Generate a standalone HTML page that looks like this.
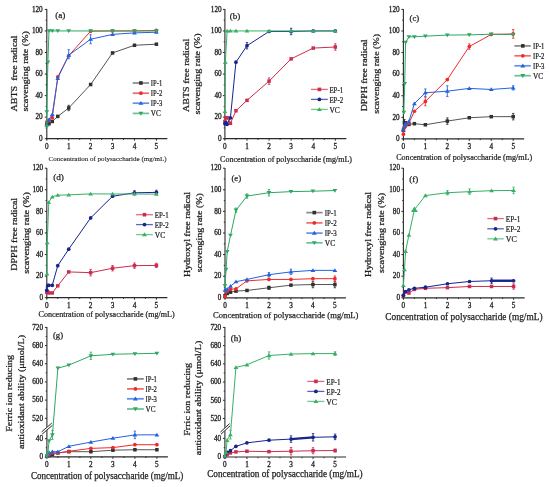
<!DOCTYPE html>
<html><head><meta charset="utf-8"><style>
html,body{margin:0;padding:0;background:#fff;width:550px;height:487px;overflow:hidden;}
svg{display:block;font-family:"Liberation Serif",serif;will-change:transform;filter:blur(0.35px);}
text{stroke:#1e1e1e;paint-order:stroke;}
</style></head><body>
<svg width="550" height="487" viewBox="0 0 550 487" font-family="Liberation Serif, serif">
<rect width="550" height="487" fill="#fff"/>
<line x1="46.8" y1="9.1" x2="46.8" y2="139.3" stroke="#2a2a2a" stroke-width="1.1"/>
<line x1="46.2" y1="138.7" x2="167.36" y2="138.7" stroke="#2a2a2a" stroke-width="1.2"/>
<line x1="44.8" y1="138.7" x2="46.8" y2="138.7" stroke="#2a2a2a" stroke-width="1"/>
<text transform="translate(42.7 140.98) scale(0.95 1)" font-size="7.6" text-anchor="end" fill="#1e1e1e" stroke-width="0.3">0</text>
<line x1="45.6" y1="127.92" x2="46.8" y2="127.92" stroke="#2a2a2a" stroke-width="1"/>
<line x1="44.8" y1="117.15" x2="46.8" y2="117.15" stroke="#2a2a2a" stroke-width="1"/>
<text transform="translate(42.7 119.43) scale(0.95 1)" font-size="7.6" text-anchor="end" fill="#1e1e1e" stroke-width="0.3">20</text>
<line x1="45.6" y1="106.38" x2="46.8" y2="106.38" stroke="#2a2a2a" stroke-width="1"/>
<line x1="44.8" y1="95.6" x2="46.8" y2="95.6" stroke="#2a2a2a" stroke-width="1"/>
<text transform="translate(42.7 97.88) scale(0.95 1)" font-size="7.6" text-anchor="end" fill="#1e1e1e" stroke-width="0.3">40</text>
<line x1="45.6" y1="84.82" x2="46.8" y2="84.82" stroke="#2a2a2a" stroke-width="1"/>
<line x1="44.8" y1="74.05" x2="46.8" y2="74.05" stroke="#2a2a2a" stroke-width="1"/>
<text transform="translate(42.7 76.33) scale(0.95 1)" font-size="7.6" text-anchor="end" fill="#1e1e1e" stroke-width="0.3">60</text>
<line x1="45.6" y1="63.28" x2="46.8" y2="63.28" stroke="#2a2a2a" stroke-width="1"/>
<line x1="44.8" y1="52.5" x2="46.8" y2="52.5" stroke="#2a2a2a" stroke-width="1"/>
<text transform="translate(42.7 54.78) scale(0.95 1)" font-size="7.6" text-anchor="end" fill="#1e1e1e" stroke-width="0.3">80</text>
<line x1="45.6" y1="41.73" x2="46.8" y2="41.73" stroke="#2a2a2a" stroke-width="1"/>
<line x1="44.8" y1="30.95" x2="46.8" y2="30.95" stroke="#2a2a2a" stroke-width="1"/>
<text transform="translate(42.7 33.23) scale(0.95 1)" font-size="7.6" text-anchor="end" fill="#1e1e1e" stroke-width="0.3">100</text>
<line x1="45.6" y1="20.17" x2="46.8" y2="20.17" stroke="#2a2a2a" stroke-width="1"/>
<line x1="44.8" y1="9.4" x2="46.8" y2="9.4" stroke="#2a2a2a" stroke-width="1"/>
<text transform="translate(42.7 11.68) scale(0.95 1)" font-size="7.6" text-anchor="end" fill="#1e1e1e" stroke-width="0.3">120</text>
<line x1="46.8" y1="138.7" x2="46.8" y2="140.7" stroke="#2a2a2a" stroke-width="1"/>
<text transform="translate(46.8 148.5) scale(0.95 1)" font-size="7.6" text-anchor="middle" fill="#1e1e1e" stroke-width="0.3">0</text>
<line x1="57.76" y1="138.7" x2="57.76" y2="139.9" stroke="#2a2a2a" stroke-width="1"/>
<line x1="68.72" y1="138.7" x2="68.72" y2="140.7" stroke="#2a2a2a" stroke-width="1"/>
<text transform="translate(68.72 148.5) scale(0.95 1)" font-size="7.6" text-anchor="middle" fill="#1e1e1e" stroke-width="0.3">1</text>
<line x1="79.68" y1="138.7" x2="79.68" y2="139.9" stroke="#2a2a2a" stroke-width="1"/>
<line x1="90.64" y1="138.7" x2="90.64" y2="140.7" stroke="#2a2a2a" stroke-width="1"/>
<text transform="translate(90.64 148.5) scale(0.95 1)" font-size="7.6" text-anchor="middle" fill="#1e1e1e" stroke-width="0.3">2</text>
<line x1="101.6" y1="138.7" x2="101.6" y2="139.9" stroke="#2a2a2a" stroke-width="1"/>
<line x1="112.56" y1="138.7" x2="112.56" y2="140.7" stroke="#2a2a2a" stroke-width="1"/>
<text transform="translate(112.56 148.5) scale(0.95 1)" font-size="7.6" text-anchor="middle" fill="#1e1e1e" stroke-width="0.3">3</text>
<line x1="123.52" y1="138.7" x2="123.52" y2="139.9" stroke="#2a2a2a" stroke-width="1"/>
<line x1="134.48" y1="138.7" x2="134.48" y2="140.7" stroke="#2a2a2a" stroke-width="1"/>
<text transform="translate(134.48 148.5) scale(0.95 1)" font-size="7.6" text-anchor="middle" fill="#1e1e1e" stroke-width="0.3">4</text>
<line x1="145.44" y1="138.7" x2="145.44" y2="139.9" stroke="#2a2a2a" stroke-width="1"/>
<line x1="156.4" y1="138.7" x2="156.4" y2="140.7" stroke="#2a2a2a" stroke-width="1"/>
<text transform="translate(156.4 148.5) scale(0.95 1)" font-size="7.6" text-anchor="middle" fill="#1e1e1e" stroke-width="0.3">5</text>
<text x="55.2" y="17.6" font-size="9.2" text-anchor="start" fill="#1e1e1e" stroke-width="0.25">(a)</text>
<text transform="translate(16.6 73.5) scale(0.82 1) rotate(-90)" x="0" y="0" font-size="10" text-anchor="middle" fill="#1e1e1e" stroke-width="0.3" textLength="76.2" lengthAdjust="spacingAndGlyphs">ABTS&#160;&#160;free radical</text>
<text transform="translate(28.4 71.35) scale(0.82 1) rotate(-90)" x="0" y="0" font-size="10" text-anchor="middle" fill="#1e1e1e" stroke-width="0.3" textLength="80.5" lengthAdjust="spacingAndGlyphs">scavenging rate (%)</text>
<text x="48.6" y="161.2" font-size="7" text-anchor="start" fill="#1e1e1e" stroke-width="0.12" textLength="118.1" lengthAdjust="spacingAndGlyphs">Concentration of polysaccharide (mg/mL)</text>
<polyline points="46.8,124.69 48.99,123.83 52.28,121.46 57.76,116.4 68.72,107.99 90.64,84.5 112.56,52.93 134.48,45.28 156.4,44.2" fill="none" stroke="#555555" stroke-width="1" stroke-linejoin="round"/>
<line x1="68.72" y1="105.3" x2="68.72" y2="110.68" stroke="#303030" stroke-width="0.9"/>
<line x1="67.52" y1="105.3" x2="69.92" y2="105.3" stroke="#303030" stroke-width="0.8"/>
<line x1="67.52" y1="110.68" x2="69.92" y2="110.68" stroke="#303030" stroke-width="0.8"/>
<rect x="45.05" y="122.94" width="3.5" height="3.5" fill="#303030"/>
<rect x="47.24" y="122.08" width="3.5" height="3.5" fill="#303030"/>
<rect x="50.53" y="119.71" width="3.5" height="3.5" fill="#303030"/>
<rect x="56.01" y="114.65" width="3.5" height="3.5" fill="#303030"/>
<rect x="66.97" y="106.24" width="3.5" height="3.5" fill="#303030"/>
<rect x="88.89" y="82.75" width="3.5" height="3.5" fill="#303030"/>
<rect x="110.81" y="51.18" width="3.5" height="3.5" fill="#303030"/>
<rect x="132.73" y="43.53" width="3.5" height="3.5" fill="#303030"/>
<rect x="154.65" y="42.45" width="3.5" height="3.5" fill="#303030"/>
<polyline points="46.8,121.78 48.99,120.38 52.28,117.69 57.76,76.96 68.72,55.73 90.64,31.17 112.56,30.95 134.48,30.95 156.4,30.41" fill="none" stroke="#f02a2a" stroke-width="1" stroke-linejoin="round"/>
<circle cx="46.8" cy="121.78" r="1.85" fill="#f02a2a"/>
<circle cx="48.99" cy="120.38" r="1.85" fill="#f02a2a"/>
<circle cx="52.28" cy="117.69" r="1.85" fill="#f02a2a"/>
<circle cx="57.76" cy="76.96" r="1.85" fill="#f02a2a"/>
<circle cx="68.72" cy="55.73" r="1.85" fill="#f02a2a"/>
<circle cx="90.64" cy="31.17" r="1.85" fill="#f02a2a"/>
<circle cx="112.56" cy="30.95" r="1.85" fill="#f02a2a"/>
<circle cx="134.48" cy="30.95" r="1.85" fill="#f02a2a"/>
<circle cx="156.4" cy="30.41" r="1.85" fill="#f02a2a"/>
<polyline points="46.8,124.69 48.99,119.74 52.28,114.35 57.76,78.36 68.72,55.19 90.64,39.25 112.56,34.4 134.48,32.89 156.4,32.24" fill="none" stroke="#2462e0" stroke-width="1" stroke-linejoin="round"/>
<line x1="68.72" y1="49.7" x2="68.72" y2="58.75" stroke="#2462e0" stroke-width="0.9"/>
<line x1="67.52" y1="49.7" x2="69.92" y2="49.7" stroke="#2462e0" stroke-width="0.8"/>
<line x1="67.52" y1="58.75" x2="69.92" y2="58.75" stroke="#2462e0" stroke-width="0.8"/>
<line x1="90.64" y1="34.72" x2="90.64" y2="43.77" stroke="#2462e0" stroke-width="0.9"/>
<line x1="89.44" y1="34.72" x2="91.84" y2="34.72" stroke="#2462e0" stroke-width="0.8"/>
<line x1="89.44" y1="43.77" x2="91.84" y2="43.77" stroke="#2462e0" stroke-width="0.8"/>
<polygon points="46.8,122.52 44.41,126.32 49.19,126.32" fill="#2462e0"/>
<polygon points="48.99,117.57 46.6,121.36 51.38,121.36" fill="#2462e0"/>
<polygon points="52.28,112.18 49.89,115.98 54.67,115.98" fill="#2462e0"/>
<polygon points="57.76,76.19 55.37,79.99 60.15,79.99" fill="#2462e0"/>
<polygon points="68.72,53.02 66.33,56.82 71.11,56.82" fill="#2462e0"/>
<polygon points="90.64,37.08 88.25,40.87 93.03,40.87" fill="#2462e0"/>
<polygon points="112.56,32.23 110.17,36.03 114.95,36.03" fill="#2462e0"/>
<polygon points="134.48,30.72 132.09,34.52 136.87,34.52" fill="#2462e0"/>
<polygon points="156.4,30.07 154.01,33.87 158.79,33.87" fill="#2462e0"/>
<polyline points="46.8,126.31 46.8,111.76 47.9,62.2 48.99,30.95 52.28,30.95 57.76,30.95 68.72,30.95 90.64,30.95 112.56,30.95 134.48,30.95 156.4,30.95" fill="none" stroke="#2ea862" stroke-width="1" stroke-linejoin="round"/>
<polygon points="46.8,128.48 44.41,124.68 49.19,124.68" fill="#2ea862"/>
<polygon points="46.8,113.93 44.41,110.13 49.19,110.13" fill="#2ea862"/>
<polygon points="47.9,64.37 45.51,60.57 50.28,60.57" fill="#2ea862"/>
<polygon points="48.99,33.12 46.6,29.32 51.38,29.32" fill="#2ea862"/>
<polygon points="52.28,33.12 49.89,29.32 54.67,29.32" fill="#2ea862"/>
<polygon points="57.76,33.12 55.37,29.32 60.15,29.32" fill="#2ea862"/>
<polygon points="68.72,33.12 66.33,29.32 71.11,29.32" fill="#2ea862"/>
<polygon points="90.64,33.12 88.25,29.32 93.03,29.32" fill="#2ea862"/>
<polygon points="112.56,33.12 110.17,29.32 114.95,29.32" fill="#2ea862"/>
<polygon points="134.48,33.12 132.09,29.32 136.87,29.32" fill="#2ea862"/>
<polygon points="156.4,33.12 154.01,29.32 158.79,29.32" fill="#2ea862"/>
<line x1="132.7" y1="83" x2="149.1" y2="83" stroke="#555555" stroke-width="1.7" stroke-opacity="0.7"/>
<rect x="139.1" y="81.2" width="3.6" height="3.6" fill="#303030"/>
<text x="150.8" y="86.04" font-size="7.6" text-anchor="start" fill="#1e1e1e" stroke-width="0.22" textLength="11.4" lengthAdjust="spacingAndGlyphs">IP-1</text>
<line x1="132.7" y1="93.2" x2="149.1" y2="93.2" stroke="#f02a2a" stroke-width="1.7" stroke-opacity="0.7"/>
<circle cx="140.9" cy="93.2" r="1.9" fill="#f02a2a"/>
<text x="150.8" y="96.24" font-size="7.6" text-anchor="start" fill="#1e1e1e" stroke-width="0.22" textLength="11.4" lengthAdjust="spacingAndGlyphs">IP-2</text>
<line x1="132.7" y1="103.2" x2="149.1" y2="103.2" stroke="#2462e0" stroke-width="1.7" stroke-opacity="0.7"/>
<polygon points="140.9,100.97 138.44,104.87 143.36,104.87" fill="#2462e0"/>
<text x="150.8" y="106.24" font-size="7.6" text-anchor="start" fill="#1e1e1e" stroke-width="0.22" textLength="11.4" lengthAdjust="spacingAndGlyphs">IP-3</text>
<line x1="132.7" y1="113.4" x2="149.1" y2="113.4" stroke="#2ea862" stroke-width="1.7" stroke-opacity="0.7"/>
<polygon points="140.9,115.63 138.44,111.73 143.36,111.73" fill="#2ea862"/>
<text x="150.8" y="116.44" font-size="7.6" text-anchor="start" fill="#1e1e1e" stroke-width="0.22" textLength="10" lengthAdjust="spacingAndGlyphs">VC</text>
<line x1="224.9" y1="9.1" x2="224.9" y2="139.3" stroke="#2a2a2a" stroke-width="1.1"/>
<line x1="224.3" y1="138.7" x2="346.34" y2="138.7" stroke="#2a2a2a" stroke-width="1.2"/>
<line x1="222.9" y1="138.7" x2="224.9" y2="138.7" stroke="#2a2a2a" stroke-width="1"/>
<text transform="translate(221.6 140.98) scale(0.95 1)" font-size="7.6" text-anchor="end" fill="#1e1e1e" stroke-width="0.3">0</text>
<line x1="223.7" y1="127.92" x2="224.9" y2="127.92" stroke="#2a2a2a" stroke-width="1"/>
<line x1="222.9" y1="117.15" x2="224.9" y2="117.15" stroke="#2a2a2a" stroke-width="1"/>
<text transform="translate(221.6 119.43) scale(0.95 1)" font-size="7.6" text-anchor="end" fill="#1e1e1e" stroke-width="0.3">20</text>
<line x1="223.7" y1="106.38" x2="224.9" y2="106.38" stroke="#2a2a2a" stroke-width="1"/>
<line x1="222.9" y1="95.6" x2="224.9" y2="95.6" stroke="#2a2a2a" stroke-width="1"/>
<text transform="translate(221.6 97.88) scale(0.95 1)" font-size="7.6" text-anchor="end" fill="#1e1e1e" stroke-width="0.3">40</text>
<line x1="223.7" y1="84.82" x2="224.9" y2="84.82" stroke="#2a2a2a" stroke-width="1"/>
<line x1="222.9" y1="74.05" x2="224.9" y2="74.05" stroke="#2a2a2a" stroke-width="1"/>
<text transform="translate(221.6 76.33) scale(0.95 1)" font-size="7.6" text-anchor="end" fill="#1e1e1e" stroke-width="0.3">60</text>
<line x1="223.7" y1="63.28" x2="224.9" y2="63.28" stroke="#2a2a2a" stroke-width="1"/>
<line x1="222.9" y1="52.5" x2="224.9" y2="52.5" stroke="#2a2a2a" stroke-width="1"/>
<text transform="translate(221.6 54.78) scale(0.95 1)" font-size="7.6" text-anchor="end" fill="#1e1e1e" stroke-width="0.3">80</text>
<line x1="223.7" y1="41.73" x2="224.9" y2="41.73" stroke="#2a2a2a" stroke-width="1"/>
<line x1="222.9" y1="30.95" x2="224.9" y2="30.95" stroke="#2a2a2a" stroke-width="1"/>
<text transform="translate(221.6 33.23) scale(0.95 1)" font-size="7.6" text-anchor="end" fill="#1e1e1e" stroke-width="0.3">100</text>
<line x1="223.7" y1="20.17" x2="224.9" y2="20.17" stroke="#2a2a2a" stroke-width="1"/>
<line x1="222.9" y1="9.4" x2="224.9" y2="9.4" stroke="#2a2a2a" stroke-width="1"/>
<text transform="translate(221.6 11.68) scale(0.95 1)" font-size="7.6" text-anchor="end" fill="#1e1e1e" stroke-width="0.3">120</text>
<line x1="224.9" y1="138.7" x2="224.9" y2="140.7" stroke="#2a2a2a" stroke-width="1"/>
<text transform="translate(224.9 148.8) scale(0.95 1)" font-size="7.6" text-anchor="middle" fill="#1e1e1e" stroke-width="0.3">0</text>
<line x1="235.94" y1="138.7" x2="235.94" y2="139.9" stroke="#2a2a2a" stroke-width="1"/>
<line x1="246.98" y1="138.7" x2="246.98" y2="140.7" stroke="#2a2a2a" stroke-width="1"/>
<text transform="translate(246.98 148.8) scale(0.95 1)" font-size="7.6" text-anchor="middle" fill="#1e1e1e" stroke-width="0.3">1</text>
<line x1="258.02" y1="138.7" x2="258.02" y2="139.9" stroke="#2a2a2a" stroke-width="1"/>
<line x1="269.06" y1="138.7" x2="269.06" y2="140.7" stroke="#2a2a2a" stroke-width="1"/>
<text transform="translate(269.06 148.8) scale(0.95 1)" font-size="7.6" text-anchor="middle" fill="#1e1e1e" stroke-width="0.3">2</text>
<line x1="280.1" y1="138.7" x2="280.1" y2="139.9" stroke="#2a2a2a" stroke-width="1"/>
<line x1="291.14" y1="138.7" x2="291.14" y2="140.7" stroke="#2a2a2a" stroke-width="1"/>
<text transform="translate(291.14 148.8) scale(0.95 1)" font-size="7.6" text-anchor="middle" fill="#1e1e1e" stroke-width="0.3">3</text>
<line x1="302.18" y1="138.7" x2="302.18" y2="139.9" stroke="#2a2a2a" stroke-width="1"/>
<line x1="313.22" y1="138.7" x2="313.22" y2="140.7" stroke="#2a2a2a" stroke-width="1"/>
<text transform="translate(313.22 148.8) scale(0.95 1)" font-size="7.6" text-anchor="middle" fill="#1e1e1e" stroke-width="0.3">4</text>
<line x1="324.26" y1="138.7" x2="324.26" y2="139.9" stroke="#2a2a2a" stroke-width="1"/>
<line x1="335.3" y1="138.7" x2="335.3" y2="140.7" stroke="#2a2a2a" stroke-width="1"/>
<text transform="translate(335.3 148.8) scale(0.95 1)" font-size="7.6" text-anchor="middle" fill="#1e1e1e" stroke-width="0.3">5</text>
<text x="229.8" y="18.5" font-size="9" text-anchor="start" fill="#1e1e1e" stroke-width="0.25">(b)</text>
<text transform="translate(188.6 75.3) scale(0.82 1) rotate(-90)" x="0" y="0" font-size="10" text-anchor="middle" fill="#1e1e1e" stroke-width="0.3" textLength="73.2" lengthAdjust="spacingAndGlyphs">ABTS free radical</text>
<text transform="translate(200.4 73.85) scale(0.82 1) rotate(-90)" x="0" y="0" font-size="10" text-anchor="middle" fill="#1e1e1e" stroke-width="0.3" textLength="81.1" lengthAdjust="spacingAndGlyphs">scavenging rate (%)</text>
<text x="220.1" y="161.5" font-size="7.9" text-anchor="start" fill="#1e1e1e" stroke-width="0.22" textLength="131.9" lengthAdjust="spacingAndGlyphs">Concentration of polysccharide (mg/mL)</text>
<polyline points="224.9,121.46 226,117.8 227.11,117.8 230.42,123.29 235.94,110.79 246.98,100.34 269.06,81.16 291.14,58.86 313.22,48.08 335.3,47" fill="none" stroke="#cc2d4c" stroke-width="1" stroke-linejoin="round"/>
<line x1="269.06" y1="77.93" x2="269.06" y2="84.39" stroke="#cc2d4c" stroke-width="0.9"/>
<line x1="267.86" y1="77.93" x2="270.26" y2="77.93" stroke="#cc2d4c" stroke-width="0.8"/>
<line x1="267.86" y1="84.39" x2="270.26" y2="84.39" stroke="#cc2d4c" stroke-width="0.8"/>
<line x1="335.3" y1="43.77" x2="335.3" y2="50.24" stroke="#cc2d4c" stroke-width="0.9"/>
<line x1="334.1" y1="43.77" x2="336.5" y2="43.77" stroke="#cc2d4c" stroke-width="0.8"/>
<line x1="334.1" y1="50.24" x2="336.5" y2="50.24" stroke="#cc2d4c" stroke-width="0.8"/>
<rect x="223.15" y="119.71" width="3.5" height="3.5" fill="#cc2d4c"/>
<rect x="224.25" y="116.05" width="3.5" height="3.5" fill="#cc2d4c"/>
<rect x="225.36" y="116.05" width="3.5" height="3.5" fill="#cc2d4c"/>
<rect x="228.67" y="121.54" width="3.5" height="3.5" fill="#cc2d4c"/>
<rect x="234.19" y="109.04" width="3.5" height="3.5" fill="#cc2d4c"/>
<rect x="245.23" y="98.59" width="3.5" height="3.5" fill="#cc2d4c"/>
<rect x="267.31" y="79.41" width="3.5" height="3.5" fill="#cc2d4c"/>
<rect x="289.39" y="57.11" width="3.5" height="3.5" fill="#cc2d4c"/>
<rect x="311.47" y="46.33" width="3.5" height="3.5" fill="#cc2d4c"/>
<rect x="333.55" y="45.25" width="3.5" height="3.5" fill="#cc2d4c"/>
<polyline points="224.9,123.83 226,122.54 227.11,124.37 230.42,117.8 235.94,62.2 246.98,45.71 269.06,31.49 291.14,31.49 313.22,30.95 335.3,30.95" fill="none" stroke="#18248e" stroke-width="1" stroke-linejoin="round"/>
<line x1="246.98" y1="42.48" x2="246.98" y2="48.94" stroke="#18248e" stroke-width="0.9"/>
<line x1="245.78" y1="42.48" x2="248.18" y2="42.48" stroke="#18248e" stroke-width="0.8"/>
<line x1="245.78" y1="48.94" x2="248.18" y2="48.94" stroke="#18248e" stroke-width="0.8"/>
<line x1="291.14" y1="28.26" x2="291.14" y2="34.72" stroke="#18248e" stroke-width="0.9"/>
<line x1="289.94" y1="28.26" x2="292.34" y2="28.26" stroke="#18248e" stroke-width="0.8"/>
<line x1="289.94" y1="34.72" x2="292.34" y2="34.72" stroke="#18248e" stroke-width="0.8"/>
<circle cx="224.9" cy="123.83" r="1.85" fill="#18248e"/>
<circle cx="226" cy="122.54" r="1.85" fill="#18248e"/>
<circle cx="227.11" cy="124.37" r="1.85" fill="#18248e"/>
<circle cx="230.42" cy="117.8" r="1.85" fill="#18248e"/>
<circle cx="235.94" cy="62.2" r="1.85" fill="#18248e"/>
<circle cx="246.98" cy="45.71" r="1.85" fill="#18248e"/>
<circle cx="269.06" cy="31.49" r="1.85" fill="#18248e"/>
<circle cx="291.14" cy="31.49" r="1.85" fill="#18248e"/>
<circle cx="313.22" cy="30.95" r="1.85" fill="#18248e"/>
<circle cx="335.3" cy="30.95" r="1.85" fill="#18248e"/>
<polyline points="224.9,111.33 225.34,62.2 227.11,30.95 230.42,30.95 235.94,30.95 246.98,30.95 269.06,30.95 291.14,30.95 313.22,30.95 335.3,30.95" fill="none" stroke="#38b066" stroke-width="1" stroke-linejoin="round"/>
<polygon points="224.9,109.16 222.51,112.96 227.29,112.96" fill="#38b066"/>
<polygon points="225.34,60.03 222.95,63.82 227.73,63.82" fill="#38b066"/>
<polygon points="227.11,28.78 224.72,32.58 229.5,32.58" fill="#38b066"/>
<polygon points="230.42,28.78 228.03,32.58 232.81,32.58" fill="#38b066"/>
<polygon points="235.94,28.78 233.55,32.58 238.33,32.58" fill="#38b066"/>
<polygon points="246.98,28.78 244.59,32.58 249.37,32.58" fill="#38b066"/>
<polygon points="269.06,28.78 266.67,32.58 271.45,32.58" fill="#38b066"/>
<polygon points="291.14,28.78 288.75,32.58 293.53,32.58" fill="#38b066"/>
<polygon points="313.22,28.78 310.83,32.58 315.61,32.58" fill="#38b066"/>
<polygon points="335.3,28.78 332.91,32.58 337.69,32.58" fill="#38b066"/>
<line x1="311" y1="89.4" x2="327.8" y2="89.4" stroke="#cc2d4c" stroke-width="1.3" stroke-opacity="0.7"/>
<rect x="317.6" y="87.6" width="3.6" height="3.6" fill="#cc2d4c"/>
<text x="329.4" y="92.51" font-size="7.8" text-anchor="start" fill="#1e1e1e" stroke-width="0.22" textLength="13.8" lengthAdjust="spacingAndGlyphs">EP-1</text>
<line x1="311" y1="99.4" x2="327.8" y2="99.4" stroke="#18248e" stroke-width="1.3" stroke-opacity="0.7"/>
<circle cx="319.4" cy="99.4" r="1.9" fill="#18248e"/>
<text x="329.4" y="102.51" font-size="7.8" text-anchor="start" fill="#1e1e1e" stroke-width="0.22" textLength="13.8" lengthAdjust="spacingAndGlyphs">EP-2</text>
<line x1="311" y1="109.4" x2="327.8" y2="109.4" stroke="#38b066" stroke-width="1.3" stroke-opacity="0.7"/>
<polygon points="319.4,107.17 316.94,111.07 321.86,111.07" fill="#38b066"/>
<text x="329.4" y="112.51" font-size="7.8" text-anchor="start" fill="#1e1e1e" stroke-width="0.22" textLength="10.4" lengthAdjust="spacingAndGlyphs">VC</text>
<line x1="403.4" y1="9.1" x2="403.4" y2="139.5" stroke="#2a2a2a" stroke-width="1.1"/>
<line x1="402.8" y1="138.9" x2="524.18" y2="138.9" stroke="#2a2a2a" stroke-width="1.2"/>
<line x1="401.4" y1="138.9" x2="403.4" y2="138.9" stroke="#2a2a2a" stroke-width="1"/>
<text transform="translate(399.6 141.18) scale(0.95 1)" font-size="7.6" text-anchor="end" fill="#1e1e1e" stroke-width="0.3">0</text>
<line x1="402.2" y1="128.11" x2="403.4" y2="128.11" stroke="#2a2a2a" stroke-width="1"/>
<line x1="401.4" y1="117.32" x2="403.4" y2="117.32" stroke="#2a2a2a" stroke-width="1"/>
<text transform="translate(399.6 119.6) scale(0.95 1)" font-size="7.6" text-anchor="end" fill="#1e1e1e" stroke-width="0.3">20</text>
<line x1="402.2" y1="106.53" x2="403.4" y2="106.53" stroke="#2a2a2a" stroke-width="1"/>
<line x1="401.4" y1="95.73" x2="403.4" y2="95.73" stroke="#2a2a2a" stroke-width="1"/>
<text transform="translate(399.6 98.01) scale(0.95 1)" font-size="7.6" text-anchor="end" fill="#1e1e1e" stroke-width="0.3">40</text>
<line x1="402.2" y1="84.94" x2="403.4" y2="84.94" stroke="#2a2a2a" stroke-width="1"/>
<line x1="401.4" y1="74.15" x2="403.4" y2="74.15" stroke="#2a2a2a" stroke-width="1"/>
<text transform="translate(399.6 76.43) scale(0.95 1)" font-size="7.6" text-anchor="end" fill="#1e1e1e" stroke-width="0.3">60</text>
<line x1="402.2" y1="63.36" x2="403.4" y2="63.36" stroke="#2a2a2a" stroke-width="1"/>
<line x1="401.4" y1="52.57" x2="403.4" y2="52.57" stroke="#2a2a2a" stroke-width="1"/>
<text transform="translate(399.6 54.85) scale(0.95 1)" font-size="7.6" text-anchor="end" fill="#1e1e1e" stroke-width="0.3">80</text>
<line x1="402.2" y1="41.78" x2="403.4" y2="41.78" stroke="#2a2a2a" stroke-width="1"/>
<line x1="401.4" y1="30.98" x2="403.4" y2="30.98" stroke="#2a2a2a" stroke-width="1"/>
<text transform="translate(399.6 33.26) scale(0.95 1)" font-size="7.6" text-anchor="end" fill="#1e1e1e" stroke-width="0.3">100</text>
<line x1="402.2" y1="20.19" x2="403.4" y2="20.19" stroke="#2a2a2a" stroke-width="1"/>
<line x1="401.4" y1="9.4" x2="403.4" y2="9.4" stroke="#2a2a2a" stroke-width="1"/>
<text transform="translate(399.6 11.68) scale(0.95 1)" font-size="7.6" text-anchor="end" fill="#1e1e1e" stroke-width="0.3">120</text>
<line x1="403.4" y1="138.9" x2="403.4" y2="140.9" stroke="#2a2a2a" stroke-width="1"/>
<text transform="translate(403.4 148.7) scale(0.95 1)" font-size="7.6" text-anchor="middle" fill="#1e1e1e" stroke-width="0.3">0</text>
<line x1="414.38" y1="138.9" x2="414.38" y2="140.1" stroke="#2a2a2a" stroke-width="1"/>
<line x1="425.36" y1="138.9" x2="425.36" y2="140.9" stroke="#2a2a2a" stroke-width="1"/>
<text transform="translate(425.36 148.7) scale(0.95 1)" font-size="7.6" text-anchor="middle" fill="#1e1e1e" stroke-width="0.3">1</text>
<line x1="436.34" y1="138.9" x2="436.34" y2="140.1" stroke="#2a2a2a" stroke-width="1"/>
<line x1="447.32" y1="138.9" x2="447.32" y2="140.9" stroke="#2a2a2a" stroke-width="1"/>
<text transform="translate(447.32 148.7) scale(0.95 1)" font-size="7.6" text-anchor="middle" fill="#1e1e1e" stroke-width="0.3">2</text>
<line x1="458.3" y1="138.9" x2="458.3" y2="140.1" stroke="#2a2a2a" stroke-width="1"/>
<line x1="469.28" y1="138.9" x2="469.28" y2="140.9" stroke="#2a2a2a" stroke-width="1"/>
<text transform="translate(469.28 148.7) scale(0.95 1)" font-size="7.6" text-anchor="middle" fill="#1e1e1e" stroke-width="0.3">3</text>
<line x1="480.26" y1="138.9" x2="480.26" y2="140.1" stroke="#2a2a2a" stroke-width="1"/>
<line x1="491.24" y1="138.9" x2="491.24" y2="140.9" stroke="#2a2a2a" stroke-width="1"/>
<text transform="translate(491.24 148.7) scale(0.95 1)" font-size="7.6" text-anchor="middle" fill="#1e1e1e" stroke-width="0.3">4</text>
<line x1="502.22" y1="138.9" x2="502.22" y2="140.1" stroke="#2a2a2a" stroke-width="1"/>
<line x1="513.2" y1="138.9" x2="513.2" y2="140.9" stroke="#2a2a2a" stroke-width="1"/>
<text transform="translate(513.2 148.7) scale(0.95 1)" font-size="7.6" text-anchor="middle" fill="#1e1e1e" stroke-width="0.3">5</text>
<text x="409.6" y="20.7" font-size="8.7" text-anchor="start" fill="#1e1e1e" stroke-width="0.25">(c)</text>
<text transform="translate(366.6 75.3) scale(0.82 1) rotate(-90)" x="0" y="0" font-size="10" text-anchor="middle" fill="#1e1e1e" stroke-width="0.3" textLength="71.8" lengthAdjust="spacingAndGlyphs">DPPH free radical</text>
<text transform="translate(378.7 73.85) scale(0.82 1) rotate(-90)" x="0" y="0" font-size="10" text-anchor="middle" fill="#1e1e1e" stroke-width="0.3" textLength="79.7" lengthAdjust="spacingAndGlyphs">scavenging rate (%)</text>
<text x="396.2" y="159.6" font-size="7.8" text-anchor="start" fill="#1e1e1e" stroke-width="0.22" textLength="136" lengthAdjust="spacingAndGlyphs">Concentration of polysaccharide (mg/mL)</text>
<polyline points="403.4,130.27 404.5,122.71 405.6,122.71 408.89,124.44 414.38,123.68 425.36,124.76 447.32,121.09 469.28,117.75 491.24,116.67 513.2,116.67" fill="none" stroke="#555555" stroke-width="1" stroke-linejoin="round"/>
<line x1="404.5" y1="119.48" x2="404.5" y2="128.11" stroke="#303030" stroke-width="0.9"/>
<line x1="403.3" y1="119.48" x2="405.7" y2="119.48" stroke="#303030" stroke-width="0.8"/>
<line x1="403.3" y1="128.11" x2="405.7" y2="128.11" stroke="#303030" stroke-width="0.8"/>
<line x1="447.32" y1="117.86" x2="447.32" y2="124.33" stroke="#303030" stroke-width="0.9"/>
<line x1="446.12" y1="117.86" x2="448.52" y2="117.86" stroke="#303030" stroke-width="0.8"/>
<line x1="446.12" y1="124.33" x2="448.52" y2="124.33" stroke="#303030" stroke-width="0.8"/>
<line x1="513.2" y1="113.43" x2="513.2" y2="119.91" stroke="#303030" stroke-width="0.9"/>
<line x1="512" y1="113.43" x2="514.4" y2="113.43" stroke="#303030" stroke-width="0.8"/>
<line x1="512" y1="119.91" x2="514.4" y2="119.91" stroke="#303030" stroke-width="0.8"/>
<rect x="401.65" y="128.52" width="3.5" height="3.5" fill="#303030"/>
<rect x="402.75" y="120.96" width="3.5" height="3.5" fill="#303030"/>
<rect x="403.85" y="120.96" width="3.5" height="3.5" fill="#303030"/>
<rect x="407.14" y="122.69" width="3.5" height="3.5" fill="#303030"/>
<rect x="412.63" y="121.93" width="3.5" height="3.5" fill="#303030"/>
<rect x="423.61" y="123.01" width="3.5" height="3.5" fill="#303030"/>
<rect x="445.57" y="119.34" width="3.5" height="3.5" fill="#303030"/>
<rect x="467.53" y="116" width="3.5" height="3.5" fill="#303030"/>
<rect x="489.49" y="114.92" width="3.5" height="3.5" fill="#303030"/>
<rect x="511.45" y="114.92" width="3.5" height="3.5" fill="#303030"/>
<polyline points="403.4,134.15 404.5,127.57 405.6,125.95 408.89,123.25 414.38,111.27 425.36,101.45 447.32,79.55 469.28,46.52 491.24,34.44 513.2,33.9" fill="none" stroke="#f02a2a" stroke-width="1" stroke-linejoin="round"/>
<line x1="425.36" y1="97.14" x2="425.36" y2="105.77" stroke="#f02a2a" stroke-width="0.9"/>
<line x1="424.16" y1="97.14" x2="426.56" y2="97.14" stroke="#f02a2a" stroke-width="0.8"/>
<line x1="424.16" y1="105.77" x2="426.56" y2="105.77" stroke="#f02a2a" stroke-width="0.8"/>
<line x1="469.28" y1="43.83" x2="469.28" y2="49.22" stroke="#f02a2a" stroke-width="0.9"/>
<line x1="468.08" y1="43.83" x2="470.48" y2="43.83" stroke="#f02a2a" stroke-width="0.8"/>
<line x1="468.08" y1="49.22" x2="470.48" y2="49.22" stroke="#f02a2a" stroke-width="0.8"/>
<line x1="513.2" y1="29.58" x2="513.2" y2="38.21" stroke="#f02a2a" stroke-width="0.9"/>
<line x1="512" y1="29.58" x2="514.4" y2="29.58" stroke="#f02a2a" stroke-width="0.8"/>
<line x1="512" y1="38.21" x2="514.4" y2="38.21" stroke="#f02a2a" stroke-width="0.8"/>
<circle cx="403.4" cy="134.15" r="1.85" fill="#f02a2a"/>
<circle cx="404.5" cy="127.57" r="1.85" fill="#f02a2a"/>
<circle cx="405.6" cy="125.95" r="1.85" fill="#f02a2a"/>
<circle cx="408.89" cy="123.25" r="1.85" fill="#f02a2a"/>
<circle cx="414.38" cy="111.27" r="1.85" fill="#f02a2a"/>
<circle cx="425.36" cy="101.45" r="1.85" fill="#f02a2a"/>
<circle cx="447.32" cy="79.55" r="1.85" fill="#f02a2a"/>
<circle cx="469.28" cy="46.52" r="1.85" fill="#f02a2a"/>
<circle cx="491.24" cy="34.44" r="1.85" fill="#f02a2a"/>
<circle cx="513.2" cy="33.9" r="1.85" fill="#f02a2a"/>
<polyline points="403.4,129.84 404.5,125.52 405.6,123.79 408.89,121.53 414.38,103.61 425.36,92.71 447.32,91.2 469.28,88.4 491.24,89.47 513.2,87.86" fill="none" stroke="#2462e0" stroke-width="1" stroke-linejoin="round"/>
<line x1="425.36" y1="88.93" x2="425.36" y2="96.49" stroke="#2462e0" stroke-width="0.9"/>
<line x1="424.16" y1="88.93" x2="426.56" y2="88.93" stroke="#2462e0" stroke-width="0.8"/>
<line x1="424.16" y1="96.49" x2="426.56" y2="96.49" stroke="#2462e0" stroke-width="0.8"/>
<line x1="447.32" y1="85.81" x2="447.32" y2="96.6" stroke="#2462e0" stroke-width="0.9"/>
<line x1="446.12" y1="85.81" x2="448.52" y2="85.81" stroke="#2462e0" stroke-width="0.8"/>
<line x1="446.12" y1="96.6" x2="448.52" y2="96.6" stroke="#2462e0" stroke-width="0.8"/>
<line x1="513.2" y1="85.7" x2="513.2" y2="90.01" stroke="#2462e0" stroke-width="0.9"/>
<line x1="512" y1="85.7" x2="514.4" y2="85.7" stroke="#2462e0" stroke-width="0.8"/>
<line x1="512" y1="90.01" x2="514.4" y2="90.01" stroke="#2462e0" stroke-width="0.8"/>
<polygon points="403.4,127.67 401.01,131.46 405.79,131.46" fill="#2462e0"/>
<polygon points="404.5,123.35 402.11,127.15 406.88,127.15" fill="#2462e0"/>
<polygon points="405.6,121.62 403.21,125.42 407.98,125.42" fill="#2462e0"/>
<polygon points="408.89,119.36 406.5,123.15 411.28,123.15" fill="#2462e0"/>
<polygon points="414.38,101.44 411.99,105.24 416.77,105.24" fill="#2462e0"/>
<polygon points="425.36,90.54 422.97,94.34 427.75,94.34" fill="#2462e0"/>
<polygon points="447.32,89.03 444.93,92.83 449.71,92.83" fill="#2462e0"/>
<polygon points="469.28,86.23 466.89,90.02 471.67,90.02" fill="#2462e0"/>
<polygon points="491.24,87.3 488.85,91.1 493.63,91.1" fill="#2462e0"/>
<polygon points="513.2,85.69 510.81,89.48 515.59,89.48" fill="#2462e0"/>
<polyline points="403.84,112.46 404.72,83.54 405.6,42.31 408.89,36.81 414.38,36.81 425.36,36.16 447.32,35.08 469.28,34.87 491.24,34.22 513.2,34.65" fill="none" stroke="#2ea862" stroke-width="1" stroke-linejoin="round"/>
<polygon points="403.84,114.63 401.45,110.83 406.23,110.83" fill="#2ea862"/>
<polygon points="404.72,85.71 402.33,81.91 407.1,81.91" fill="#2ea862"/>
<polygon points="405.6,44.48 403.21,40.69 407.98,40.69" fill="#2ea862"/>
<polygon points="408.89,38.98 406.5,35.18 411.28,35.18" fill="#2ea862"/>
<polygon points="414.38,38.98 411.99,35.18 416.77,35.18" fill="#2ea862"/>
<polygon points="425.36,38.33 422.97,34.54 427.75,34.54" fill="#2ea862"/>
<polygon points="447.32,37.25 444.93,33.46 449.71,33.46" fill="#2ea862"/>
<polygon points="469.28,37.04 466.89,33.24 471.67,33.24" fill="#2ea862"/>
<polygon points="491.24,36.39 488.85,32.59 493.63,32.59" fill="#2ea862"/>
<polygon points="513.2,36.82 510.81,33.03 515.59,33.03" fill="#2ea862"/>
<line x1="514.4" y1="45.9" x2="530.8" y2="45.9" stroke="#555555" stroke-width="1.7" stroke-opacity="0.7"/>
<rect x="521" y="44.1" width="3.6" height="3.6" fill="#303030"/>
<text x="532.9" y="48.94" font-size="7.6" text-anchor="start" fill="#1e1e1e" stroke-width="0.22" textLength="11.6" lengthAdjust="spacingAndGlyphs">IP-1</text>
<line x1="514.4" y1="55.8" x2="530.8" y2="55.8" stroke="#f02a2a" stroke-width="1.7" stroke-opacity="0.7"/>
<circle cx="522.8" cy="55.8" r="1.9" fill="#f02a2a"/>
<text x="532.9" y="58.84" font-size="7.6" text-anchor="start" fill="#1e1e1e" stroke-width="0.22" textLength="11.6" lengthAdjust="spacingAndGlyphs">IP-2</text>
<line x1="514.4" y1="65.8" x2="530.8" y2="65.8" stroke="#2462e0" stroke-width="1.7" stroke-opacity="0.7"/>
<polygon points="522.8,63.57 520.34,67.47 525.26,67.47" fill="#2462e0"/>
<text x="532.9" y="68.84" font-size="7.6" text-anchor="start" fill="#1e1e1e" stroke-width="0.22" textLength="11.6" lengthAdjust="spacingAndGlyphs">IP-3</text>
<line x1="514.4" y1="75.7" x2="530.8" y2="75.7" stroke="#2ea862" stroke-width="1.7" stroke-opacity="0.7"/>
<polygon points="522.8,77.93 520.34,74.03 525.26,74.03" fill="#2ea862"/>
<text x="532.9" y="78.74" font-size="7.6" text-anchor="start" fill="#1e1e1e" stroke-width="0.22" textLength="10.1" lengthAdjust="spacingAndGlyphs">VC</text>
<line x1="46.8" y1="167.9" x2="46.8" y2="298.3" stroke="#2a2a2a" stroke-width="1.1"/>
<line x1="46.2" y1="297.7" x2="167.36" y2="297.7" stroke="#2a2a2a" stroke-width="1.2"/>
<line x1="44.8" y1="297.7" x2="46.8" y2="297.7" stroke="#2a2a2a" stroke-width="1"/>
<text transform="translate(43.2 299.98) scale(0.95 1)" font-size="7.6" text-anchor="end" fill="#1e1e1e" stroke-width="0.3">0</text>
<line x1="45.6" y1="286.91" x2="46.8" y2="286.91" stroke="#2a2a2a" stroke-width="1"/>
<line x1="44.8" y1="276.12" x2="46.8" y2="276.12" stroke="#2a2a2a" stroke-width="1"/>
<text transform="translate(43.2 278.4) scale(0.95 1)" font-size="7.6" text-anchor="end" fill="#1e1e1e" stroke-width="0.3">20</text>
<line x1="45.6" y1="265.32" x2="46.8" y2="265.32" stroke="#2a2a2a" stroke-width="1"/>
<line x1="44.8" y1="254.53" x2="46.8" y2="254.53" stroke="#2a2a2a" stroke-width="1"/>
<text transform="translate(43.2 256.81) scale(0.95 1)" font-size="7.6" text-anchor="end" fill="#1e1e1e" stroke-width="0.3">40</text>
<line x1="45.6" y1="243.74" x2="46.8" y2="243.74" stroke="#2a2a2a" stroke-width="1"/>
<line x1="44.8" y1="232.95" x2="46.8" y2="232.95" stroke="#2a2a2a" stroke-width="1"/>
<text transform="translate(43.2 235.23) scale(0.95 1)" font-size="7.6" text-anchor="end" fill="#1e1e1e" stroke-width="0.3">60</text>
<line x1="45.6" y1="222.16" x2="46.8" y2="222.16" stroke="#2a2a2a" stroke-width="1"/>
<line x1="44.8" y1="211.37" x2="46.8" y2="211.37" stroke="#2a2a2a" stroke-width="1"/>
<text transform="translate(43.2 213.65) scale(0.95 1)" font-size="7.6" text-anchor="end" fill="#1e1e1e" stroke-width="0.3">80</text>
<line x1="45.6" y1="200.57" x2="46.8" y2="200.57" stroke="#2a2a2a" stroke-width="1"/>
<line x1="44.8" y1="189.78" x2="46.8" y2="189.78" stroke="#2a2a2a" stroke-width="1"/>
<text transform="translate(43.2 192.06) scale(0.95 1)" font-size="7.6" text-anchor="end" fill="#1e1e1e" stroke-width="0.3">100</text>
<line x1="45.6" y1="178.99" x2="46.8" y2="178.99" stroke="#2a2a2a" stroke-width="1"/>
<line x1="44.8" y1="168.2" x2="46.8" y2="168.2" stroke="#2a2a2a" stroke-width="1"/>
<text transform="translate(43.2 170.48) scale(0.95 1)" font-size="7.6" text-anchor="end" fill="#1e1e1e" stroke-width="0.3">120</text>
<line x1="46.8" y1="297.7" x2="46.8" y2="299.7" stroke="#2a2a2a" stroke-width="1"/>
<text transform="translate(46.8 307.8) scale(0.95 1)" font-size="7.6" text-anchor="middle" fill="#1e1e1e" stroke-width="0.3">0</text>
<line x1="57.76" y1="297.7" x2="57.76" y2="298.9" stroke="#2a2a2a" stroke-width="1"/>
<line x1="68.72" y1="297.7" x2="68.72" y2="299.7" stroke="#2a2a2a" stroke-width="1"/>
<text transform="translate(68.72 307.8) scale(0.95 1)" font-size="7.6" text-anchor="middle" fill="#1e1e1e" stroke-width="0.3">1</text>
<line x1="79.68" y1="297.7" x2="79.68" y2="298.9" stroke="#2a2a2a" stroke-width="1"/>
<line x1="90.64" y1="297.7" x2="90.64" y2="299.7" stroke="#2a2a2a" stroke-width="1"/>
<text transform="translate(90.64 307.8) scale(0.95 1)" font-size="7.6" text-anchor="middle" fill="#1e1e1e" stroke-width="0.3">2</text>
<line x1="101.6" y1="297.7" x2="101.6" y2="298.9" stroke="#2a2a2a" stroke-width="1"/>
<line x1="112.56" y1="297.7" x2="112.56" y2="299.7" stroke="#2a2a2a" stroke-width="1"/>
<text transform="translate(112.56 307.8) scale(0.95 1)" font-size="7.6" text-anchor="middle" fill="#1e1e1e" stroke-width="0.3">3</text>
<line x1="123.52" y1="297.7" x2="123.52" y2="298.9" stroke="#2a2a2a" stroke-width="1"/>
<line x1="134.48" y1="297.7" x2="134.48" y2="299.7" stroke="#2a2a2a" stroke-width="1"/>
<text transform="translate(134.48 307.8) scale(0.95 1)" font-size="7.6" text-anchor="middle" fill="#1e1e1e" stroke-width="0.3">4</text>
<line x1="145.44" y1="297.7" x2="145.44" y2="298.9" stroke="#2a2a2a" stroke-width="1"/>
<line x1="156.4" y1="297.7" x2="156.4" y2="299.7" stroke="#2a2a2a" stroke-width="1"/>
<text transform="translate(156.4 307.8) scale(0.95 1)" font-size="7.6" text-anchor="middle" fill="#1e1e1e" stroke-width="0.3">5</text>
<text x="53.2" y="179.8" font-size="9.2" text-anchor="start" fill="#1e1e1e" stroke-width="0.25">(d)</text>
<text transform="translate(16.8 234.35) scale(0.82 1) rotate(-90)" x="0" y="0" font-size="10" text-anchor="middle" fill="#1e1e1e" stroke-width="0.3" textLength="72.9" lengthAdjust="spacingAndGlyphs">DPPH free radical</text>
<text transform="translate(28.7 232.95) scale(0.82 1) rotate(-90)" x="0" y="0" font-size="10" text-anchor="middle" fill="#1e1e1e" stroke-width="0.3" textLength="81.5" lengthAdjust="spacingAndGlyphs">scavenging rate (%)</text>
<text x="38.5" y="317.2" font-size="8.1" text-anchor="start" fill="#1e1e1e" stroke-width="0.22" textLength="136.2" lengthAdjust="spacingAndGlyphs">Concentration of polysaccharide (mg/mL)</text>
<polyline points="46.8,292.3 47.9,292.3 48.99,292.95 52.28,292.95 57.76,285.83 68.72,271.91 90.64,272.66 112.56,268.24 134.48,265.65 156.4,265.43" fill="none" stroke="#cc2d4c" stroke-width="1" stroke-linejoin="round"/>
<line x1="90.64" y1="269.43" x2="90.64" y2="275.9" stroke="#cc2d4c" stroke-width="0.9"/>
<line x1="89.44" y1="269.43" x2="91.84" y2="269.43" stroke="#cc2d4c" stroke-width="0.8"/>
<line x1="89.44" y1="275.9" x2="91.84" y2="275.9" stroke="#cc2d4c" stroke-width="0.8"/>
<line x1="112.56" y1="265.54" x2="112.56" y2="270.94" stroke="#cc2d4c" stroke-width="0.9"/>
<line x1="111.36" y1="265.54" x2="113.76" y2="265.54" stroke="#cc2d4c" stroke-width="0.8"/>
<line x1="111.36" y1="270.94" x2="113.76" y2="270.94" stroke="#cc2d4c" stroke-width="0.8"/>
<line x1="134.48" y1="262.95" x2="134.48" y2="268.35" stroke="#cc2d4c" stroke-width="0.9"/>
<line x1="133.28" y1="262.95" x2="135.68" y2="262.95" stroke="#cc2d4c" stroke-width="0.8"/>
<line x1="133.28" y1="268.35" x2="135.68" y2="268.35" stroke="#cc2d4c" stroke-width="0.8"/>
<line x1="156.4" y1="263.27" x2="156.4" y2="267.59" stroke="#cc2d4c" stroke-width="0.9"/>
<line x1="155.2" y1="263.27" x2="157.6" y2="263.27" stroke="#cc2d4c" stroke-width="0.8"/>
<line x1="155.2" y1="267.59" x2="157.6" y2="267.59" stroke="#cc2d4c" stroke-width="0.8"/>
<rect x="45.05" y="290.55" width="3.5" height="3.5" fill="#cc2d4c"/>
<rect x="46.15" y="290.55" width="3.5" height="3.5" fill="#cc2d4c"/>
<rect x="47.24" y="291.2" width="3.5" height="3.5" fill="#cc2d4c"/>
<rect x="50.53" y="291.2" width="3.5" height="3.5" fill="#cc2d4c"/>
<rect x="56.01" y="284.08" width="3.5" height="3.5" fill="#cc2d4c"/>
<rect x="66.97" y="270.16" width="3.5" height="3.5" fill="#cc2d4c"/>
<rect x="88.89" y="270.91" width="3.5" height="3.5" fill="#cc2d4c"/>
<rect x="110.81" y="266.49" width="3.5" height="3.5" fill="#cc2d4c"/>
<rect x="132.73" y="263.9" width="3.5" height="3.5" fill="#cc2d4c"/>
<rect x="154.65" y="263.68" width="3.5" height="3.5" fill="#cc2d4c"/>
<polyline points="46.8,290.15 47.9,285.29 48.99,285.29 52.28,285.29 57.76,265.65 68.72,249.14 90.64,217.95 112.56,196.26 134.48,192.81 156.4,192.37" fill="none" stroke="#18248e" stroke-width="1" stroke-linejoin="round"/>
<line x1="134.48" y1="190.65" x2="134.48" y2="194.96" stroke="#18248e" stroke-width="0.9"/>
<line x1="133.28" y1="190.65" x2="135.68" y2="190.65" stroke="#18248e" stroke-width="0.8"/>
<line x1="133.28" y1="194.96" x2="135.68" y2="194.96" stroke="#18248e" stroke-width="0.8"/>
<line x1="156.4" y1="190.22" x2="156.4" y2="194.53" stroke="#18248e" stroke-width="0.9"/>
<line x1="155.2" y1="190.22" x2="157.6" y2="190.22" stroke="#18248e" stroke-width="0.8"/>
<line x1="155.2" y1="194.53" x2="157.6" y2="194.53" stroke="#18248e" stroke-width="0.8"/>
<circle cx="46.8" cy="290.15" r="1.85" fill="#18248e"/>
<circle cx="47.9" cy="285.29" r="1.85" fill="#18248e"/>
<circle cx="48.99" cy="285.29" r="1.85" fill="#18248e"/>
<circle cx="52.28" cy="285.29" r="1.85" fill="#18248e"/>
<circle cx="57.76" cy="265.65" r="1.85" fill="#18248e"/>
<circle cx="68.72" cy="249.14" r="1.85" fill="#18248e"/>
<circle cx="90.64" cy="217.95" r="1.85" fill="#18248e"/>
<circle cx="112.56" cy="196.26" r="1.85" fill="#18248e"/>
<circle cx="134.48" cy="192.81" r="1.85" fill="#18248e"/>
<circle cx="156.4" cy="192.37" r="1.85" fill="#18248e"/>
<polyline points="47.02,273.96 47.24,242.66 48.77,202.3 52.28,196.8 57.76,195.18 68.72,194.86 90.64,193.88 112.56,193.99 134.48,193.99 156.4,194.1" fill="none" stroke="#38b066" stroke-width="1" stroke-linejoin="round"/>
<polygon points="47.02,271.79 44.63,275.59 49.41,275.59" fill="#38b066"/>
<polygon points="47.24,240.49 44.85,244.29 49.63,244.29" fill="#38b066"/>
<polygon points="48.77,200.13 46.39,203.93 51.16,203.93" fill="#38b066"/>
<polygon points="52.28,194.63 49.89,198.43 54.67,198.43" fill="#38b066"/>
<polygon points="57.76,193.01 55.37,196.81 60.15,196.81" fill="#38b066"/>
<polygon points="68.72,192.69 66.33,196.48 71.11,196.48" fill="#38b066"/>
<polygon points="90.64,191.71 88.25,195.51 93.03,195.51" fill="#38b066"/>
<polygon points="112.56,191.82 110.17,195.62 114.95,195.62" fill="#38b066"/>
<polygon points="134.48,191.82 132.09,195.62 136.87,195.62" fill="#38b066"/>
<polygon points="156.4,191.93 154.01,195.73 158.79,195.73" fill="#38b066"/>
<line x1="136.1" y1="214.7" x2="152.9" y2="214.7" stroke="#cc2d4c" stroke-width="1.3" stroke-opacity="0.7"/>
<rect x="142.7" y="212.9" width="3.6" height="3.6" fill="#cc2d4c"/>
<text x="154.8" y="217.81" font-size="7.8" text-anchor="start" fill="#1e1e1e" stroke-width="0.22" textLength="13.8" lengthAdjust="spacingAndGlyphs">EP-1</text>
<line x1="136.1" y1="224.6" x2="152.9" y2="224.6" stroke="#18248e" stroke-width="1.3" stroke-opacity="0.7"/>
<circle cx="144.5" cy="224.6" r="1.9" fill="#18248e"/>
<text x="154.8" y="227.71" font-size="7.8" text-anchor="start" fill="#1e1e1e" stroke-width="0.22" textLength="13.8" lengthAdjust="spacingAndGlyphs">EP-2</text>
<line x1="136.1" y1="234.6" x2="152.9" y2="234.6" stroke="#38b066" stroke-width="1.3" stroke-opacity="0.7"/>
<polygon points="144.5,232.37 142.04,236.27 146.96,236.27" fill="#38b066"/>
<text x="154.8" y="237.71" font-size="7.8" text-anchor="start" fill="#1e1e1e" stroke-width="0.22" textLength="10.4" lengthAdjust="spacingAndGlyphs">VC</text>
<line x1="225" y1="167.9" x2="225" y2="298.4" stroke="#2a2a2a" stroke-width="1.1"/>
<line x1="224.4" y1="297.8" x2="345.89" y2="297.8" stroke="#2a2a2a" stroke-width="1.2"/>
<line x1="223" y1="297.8" x2="225" y2="297.8" stroke="#2a2a2a" stroke-width="1"/>
<text transform="translate(221.4 300.08) scale(0.95 1)" font-size="7.6" text-anchor="end" fill="#1e1e1e" stroke-width="0.3">0</text>
<line x1="223.8" y1="287" x2="225" y2="287" stroke="#2a2a2a" stroke-width="1"/>
<line x1="223" y1="276.2" x2="225" y2="276.2" stroke="#2a2a2a" stroke-width="1"/>
<text transform="translate(221.4 278.48) scale(0.95 1)" font-size="7.6" text-anchor="end" fill="#1e1e1e" stroke-width="0.3">20</text>
<line x1="223.8" y1="265.4" x2="225" y2="265.4" stroke="#2a2a2a" stroke-width="1"/>
<line x1="223" y1="254.6" x2="225" y2="254.6" stroke="#2a2a2a" stroke-width="1"/>
<text transform="translate(221.4 256.88) scale(0.95 1)" font-size="7.6" text-anchor="end" fill="#1e1e1e" stroke-width="0.3">40</text>
<line x1="223.8" y1="243.8" x2="225" y2="243.8" stroke="#2a2a2a" stroke-width="1"/>
<line x1="223" y1="233" x2="225" y2="233" stroke="#2a2a2a" stroke-width="1"/>
<text transform="translate(221.4 235.28) scale(0.95 1)" font-size="7.6" text-anchor="end" fill="#1e1e1e" stroke-width="0.3">60</text>
<line x1="223.8" y1="222.2" x2="225" y2="222.2" stroke="#2a2a2a" stroke-width="1"/>
<line x1="223" y1="211.4" x2="225" y2="211.4" stroke="#2a2a2a" stroke-width="1"/>
<text transform="translate(221.4 213.68) scale(0.95 1)" font-size="7.6" text-anchor="end" fill="#1e1e1e" stroke-width="0.3">80</text>
<line x1="223.8" y1="200.6" x2="225" y2="200.6" stroke="#2a2a2a" stroke-width="1"/>
<line x1="223" y1="189.8" x2="225" y2="189.8" stroke="#2a2a2a" stroke-width="1"/>
<text transform="translate(221.4 192.08) scale(0.95 1)" font-size="7.6" text-anchor="end" fill="#1e1e1e" stroke-width="0.3">100</text>
<line x1="223.8" y1="179" x2="225" y2="179" stroke="#2a2a2a" stroke-width="1"/>
<line x1="223" y1="168.2" x2="225" y2="168.2" stroke="#2a2a2a" stroke-width="1"/>
<text transform="translate(221.4 170.48) scale(0.95 1)" font-size="7.6" text-anchor="end" fill="#1e1e1e" stroke-width="0.3">120</text>
<line x1="225" y1="297.8" x2="225" y2="299.8" stroke="#2a2a2a" stroke-width="1"/>
<text transform="translate(225 307.8) scale(0.95 1)" font-size="7.6" text-anchor="middle" fill="#1e1e1e" stroke-width="0.3">0</text>
<line x1="235.99" y1="297.8" x2="235.99" y2="299" stroke="#2a2a2a" stroke-width="1"/>
<line x1="246.98" y1="297.8" x2="246.98" y2="299.8" stroke="#2a2a2a" stroke-width="1"/>
<text transform="translate(246.98 307.8) scale(0.95 1)" font-size="7.6" text-anchor="middle" fill="#1e1e1e" stroke-width="0.3">1</text>
<line x1="257.97" y1="297.8" x2="257.97" y2="299" stroke="#2a2a2a" stroke-width="1"/>
<line x1="268.96" y1="297.8" x2="268.96" y2="299.8" stroke="#2a2a2a" stroke-width="1"/>
<text transform="translate(268.96 307.8) scale(0.95 1)" font-size="7.6" text-anchor="middle" fill="#1e1e1e" stroke-width="0.3">2</text>
<line x1="279.95" y1="297.8" x2="279.95" y2="299" stroke="#2a2a2a" stroke-width="1"/>
<line x1="290.94" y1="297.8" x2="290.94" y2="299.8" stroke="#2a2a2a" stroke-width="1"/>
<text transform="translate(290.94 307.8) scale(0.95 1)" font-size="7.6" text-anchor="middle" fill="#1e1e1e" stroke-width="0.3">3</text>
<line x1="301.93" y1="297.8" x2="301.93" y2="299" stroke="#2a2a2a" stroke-width="1"/>
<line x1="312.92" y1="297.8" x2="312.92" y2="299.8" stroke="#2a2a2a" stroke-width="1"/>
<text transform="translate(312.92 307.8) scale(0.95 1)" font-size="7.6" text-anchor="middle" fill="#1e1e1e" stroke-width="0.3">4</text>
<line x1="323.91" y1="297.8" x2="323.91" y2="299" stroke="#2a2a2a" stroke-width="1"/>
<line x1="334.9" y1="297.8" x2="334.9" y2="299.8" stroke="#2a2a2a" stroke-width="1"/>
<text transform="translate(334.9 307.8) scale(0.95 1)" font-size="7.6" text-anchor="middle" fill="#1e1e1e" stroke-width="0.3">5</text>
<text x="231.4" y="180.5" font-size="8.9" text-anchor="start" fill="#1e1e1e" stroke-width="0.25">(e)</text>
<text transform="translate(190.4 234.45) scale(0.82 1) rotate(-90)" x="0" y="0" font-size="10" text-anchor="middle" fill="#1e1e1e" stroke-width="0.3" textLength="85.1" lengthAdjust="spacingAndGlyphs">Hydroxyl free radical</text>
<text transform="translate(202.4 232.8) scale(0.82 1) rotate(-90)" x="0" y="0" font-size="10" text-anchor="middle" fill="#1e1e1e" stroke-width="0.3" textLength="79" lengthAdjust="spacingAndGlyphs">scavenging rate (%)</text>
<text x="213" y="318.4" font-size="9" text-anchor="start" fill="#1e1e1e" stroke-width="0.25" textLength="145.5" lengthAdjust="spacingAndGlyphs">Concentration of polysaccharide (mg/mL)</text>
<polyline points="225,295.64 227.2,293.48 230.5,292.18 235.99,291.1 246.98,290.46 268.96,287.76 290.94,285.16 312.92,284.52 334.9,284.52" fill="none" stroke="#555555" stroke-width="1" stroke-linejoin="round"/>
<line x1="268.96" y1="286.14" x2="268.96" y2="289.38" stroke="#303030" stroke-width="0.9"/>
<line x1="267.76" y1="286.14" x2="270.16" y2="286.14" stroke="#303030" stroke-width="0.8"/>
<line x1="267.76" y1="289.38" x2="270.16" y2="289.38" stroke="#303030" stroke-width="0.8"/>
<line x1="312.92" y1="281.28" x2="312.92" y2="287.76" stroke="#303030" stroke-width="0.9"/>
<line x1="311.72" y1="281.28" x2="314.12" y2="281.28" stroke="#303030" stroke-width="0.8"/>
<line x1="311.72" y1="287.76" x2="314.12" y2="287.76" stroke="#303030" stroke-width="0.8"/>
<line x1="334.9" y1="281.28" x2="334.9" y2="287.76" stroke="#303030" stroke-width="0.9"/>
<line x1="333.7" y1="281.28" x2="336.1" y2="281.28" stroke="#303030" stroke-width="0.8"/>
<line x1="333.7" y1="287.76" x2="336.1" y2="287.76" stroke="#303030" stroke-width="0.8"/>
<rect x="223.25" y="293.89" width="3.5" height="3.5" fill="#303030"/>
<rect x="225.45" y="291.73" width="3.5" height="3.5" fill="#303030"/>
<rect x="228.75" y="290.43" width="3.5" height="3.5" fill="#303030"/>
<rect x="234.24" y="289.35" width="3.5" height="3.5" fill="#303030"/>
<rect x="245.23" y="288.71" width="3.5" height="3.5" fill="#303030"/>
<rect x="267.21" y="286.01" width="3.5" height="3.5" fill="#303030"/>
<rect x="289.19" y="283.41" width="3.5" height="3.5" fill="#303030"/>
<rect x="311.17" y="282.77" width="3.5" height="3.5" fill="#303030"/>
<rect x="333.15" y="282.77" width="3.5" height="3.5" fill="#303030"/>
<polyline points="225,296.61 227.2,291.32 230.5,289.16 235.99,288.84 246.98,280.84 268.96,279.44 290.94,279.44 312.92,278.68 334.9,278.68" fill="none" stroke="#f02a2a" stroke-width="1" stroke-linejoin="round"/>
<line x1="334.9" y1="275.98" x2="334.9" y2="281.38" stroke="#f02a2a" stroke-width="0.9"/>
<line x1="333.7" y1="275.98" x2="336.1" y2="275.98" stroke="#f02a2a" stroke-width="0.8"/>
<line x1="333.7" y1="281.38" x2="336.1" y2="281.38" stroke="#f02a2a" stroke-width="0.8"/>
<circle cx="225" cy="296.61" r="1.85" fill="#f02a2a"/>
<circle cx="227.2" cy="291.32" r="1.85" fill="#f02a2a"/>
<circle cx="230.5" cy="289.16" r="1.85" fill="#f02a2a"/>
<circle cx="235.99" cy="288.84" r="1.85" fill="#f02a2a"/>
<circle cx="246.98" cy="280.84" r="1.85" fill="#f02a2a"/>
<circle cx="268.96" cy="279.44" r="1.85" fill="#f02a2a"/>
<circle cx="290.94" cy="279.44" r="1.85" fill="#f02a2a"/>
<circle cx="312.92" cy="278.68" r="1.85" fill="#f02a2a"/>
<circle cx="334.9" cy="278.68" r="1.85" fill="#f02a2a"/>
<polyline points="225,290.02 227.2,289.16 230.5,286.24 235.99,281.71 246.98,279.44 268.96,274.69 290.94,271.88 312.92,270.37 334.9,270.37" fill="none" stroke="#2462e0" stroke-width="1" stroke-linejoin="round"/>
<line x1="268.96" y1="272.53" x2="268.96" y2="276.85" stroke="#2462e0" stroke-width="0.9"/>
<line x1="267.76" y1="272.53" x2="270.16" y2="272.53" stroke="#2462e0" stroke-width="0.8"/>
<line x1="267.76" y1="276.85" x2="270.16" y2="276.85" stroke="#2462e0" stroke-width="0.8"/>
<line x1="290.94" y1="269.18" x2="290.94" y2="274.58" stroke="#2462e0" stroke-width="0.9"/>
<line x1="289.74" y1="269.18" x2="292.14" y2="269.18" stroke="#2462e0" stroke-width="0.8"/>
<line x1="289.74" y1="274.58" x2="292.14" y2="274.58" stroke="#2462e0" stroke-width="0.8"/>
<polygon points="225,287.85 222.61,291.65 227.39,291.65" fill="#2462e0"/>
<polygon points="227.2,286.99 224.81,290.79 229.59,290.79" fill="#2462e0"/>
<polygon points="230.5,284.07 228.11,287.87 232.88,287.87" fill="#2462e0"/>
<polygon points="235.99,279.54 233.6,283.34 238.38,283.34" fill="#2462e0"/>
<polygon points="246.98,277.27 244.59,281.07 249.37,281.07" fill="#2462e0"/>
<polygon points="268.96,272.52 266.57,276.32 271.35,276.32" fill="#2462e0"/>
<polygon points="290.94,269.71 288.55,273.51 293.33,273.51" fill="#2462e0"/>
<polygon points="312.92,268.2 310.53,272 315.31,272" fill="#2462e0"/>
<polygon points="334.9,268.2 332.51,272 337.29,272" fill="#2462e0"/>
<polyline points="225,285.7 226.1,269.29 227.2,251.68 230.5,235.38 235.99,210.21 246.98,196.06 268.96,192.72 290.94,191.64 312.92,191.2 334.9,190.56" fill="none" stroke="#2ea862" stroke-width="1" stroke-linejoin="round"/>
<line x1="235.99" y1="208.05" x2="235.99" y2="212.37" stroke="#2ea862" stroke-width="0.9"/>
<line x1="234.79" y1="208.05" x2="237.19" y2="208.05" stroke="#2ea862" stroke-width="0.8"/>
<line x1="234.79" y1="212.37" x2="237.19" y2="212.37" stroke="#2ea862" stroke-width="0.8"/>
<line x1="246.98" y1="193.9" x2="246.98" y2="198.22" stroke="#2ea862" stroke-width="0.9"/>
<line x1="245.78" y1="193.9" x2="248.18" y2="193.9" stroke="#2ea862" stroke-width="0.8"/>
<line x1="245.78" y1="198.22" x2="248.18" y2="198.22" stroke="#2ea862" stroke-width="0.8"/>
<line x1="268.96" y1="189.48" x2="268.96" y2="195.96" stroke="#2ea862" stroke-width="0.9"/>
<line x1="267.76" y1="189.48" x2="270.16" y2="189.48" stroke="#2ea862" stroke-width="0.8"/>
<line x1="267.76" y1="195.96" x2="270.16" y2="195.96" stroke="#2ea862" stroke-width="0.8"/>
<polygon points="225,287.87 222.61,284.08 227.39,284.08" fill="#2ea862"/>
<polygon points="226.1,271.46 223.71,267.66 228.49,267.66" fill="#2ea862"/>
<polygon points="227.2,253.85 224.81,250.06 229.59,250.06" fill="#2ea862"/>
<polygon points="230.5,237.55 228.11,233.75 232.88,233.75" fill="#2ea862"/>
<polygon points="235.99,212.38 233.6,208.58 238.38,208.58" fill="#2ea862"/>
<polygon points="246.98,198.23 244.59,194.44 249.37,194.44" fill="#2ea862"/>
<polygon points="268.96,194.89 266.57,191.09 271.35,191.09" fill="#2ea862"/>
<polygon points="290.94,193.81 288.55,190.01 293.33,190.01" fill="#2ea862"/>
<polygon points="312.92,193.37 310.53,189.58 315.31,189.58" fill="#2ea862"/>
<polygon points="334.9,192.73 332.51,188.93 337.29,188.93" fill="#2ea862"/>
<line x1="306.3" y1="212.6" x2="322.6" y2="212.6" stroke="#555555" stroke-width="1.7" stroke-opacity="0.7"/>
<rect x="312.5" y="210.8" width="3.6" height="3.6" fill="#303030"/>
<text x="324.8" y="215.71" font-size="7.8" text-anchor="start" fill="#1e1e1e" stroke-width="0.22" textLength="12" lengthAdjust="spacingAndGlyphs">IP-1</text>
<line x1="306.3" y1="222.9" x2="322.6" y2="222.9" stroke="#f02a2a" stroke-width="1.7" stroke-opacity="0.7"/>
<circle cx="314.3" cy="222.9" r="1.9" fill="#f02a2a"/>
<text x="324.8" y="226.01" font-size="7.8" text-anchor="start" fill="#1e1e1e" stroke-width="0.22" textLength="12" lengthAdjust="spacingAndGlyphs">IP-2</text>
<line x1="306.3" y1="233.1" x2="322.6" y2="233.1" stroke="#2462e0" stroke-width="1.7" stroke-opacity="0.7"/>
<polygon points="314.3,230.87 311.84,234.77 316.76,234.77" fill="#2462e0"/>
<text x="324.8" y="236.21" font-size="7.8" text-anchor="start" fill="#1e1e1e" stroke-width="0.22" textLength="12" lengthAdjust="spacingAndGlyphs">IP-3</text>
<line x1="306.3" y1="242.8" x2="322.6" y2="242.8" stroke="#2ea862" stroke-width="1.7" stroke-opacity="0.7"/>
<polygon points="314.3,245.03 311.84,241.13 316.76,241.13" fill="#2ea862"/>
<text x="324.8" y="245.91" font-size="7.8" text-anchor="start" fill="#1e1e1e" stroke-width="0.22" textLength="10.4" lengthAdjust="spacingAndGlyphs">VC</text>
<line x1="403.4" y1="167.9" x2="403.4" y2="298.4" stroke="#2a2a2a" stroke-width="1.1"/>
<line x1="402.8" y1="297.8" x2="524.62" y2="297.8" stroke="#2a2a2a" stroke-width="1.2"/>
<line x1="401.4" y1="297.8" x2="403.4" y2="297.8" stroke="#2a2a2a" stroke-width="1"/>
<text transform="translate(400 300.08) scale(0.95 1)" font-size="7.6" text-anchor="end" fill="#1e1e1e" stroke-width="0.3">0</text>
<line x1="402.2" y1="287" x2="403.4" y2="287" stroke="#2a2a2a" stroke-width="1"/>
<line x1="401.4" y1="276.2" x2="403.4" y2="276.2" stroke="#2a2a2a" stroke-width="1"/>
<text transform="translate(400 278.48) scale(0.95 1)" font-size="7.6" text-anchor="end" fill="#1e1e1e" stroke-width="0.3">20</text>
<line x1="402.2" y1="265.4" x2="403.4" y2="265.4" stroke="#2a2a2a" stroke-width="1"/>
<line x1="401.4" y1="254.6" x2="403.4" y2="254.6" stroke="#2a2a2a" stroke-width="1"/>
<text transform="translate(400 256.88) scale(0.95 1)" font-size="7.6" text-anchor="end" fill="#1e1e1e" stroke-width="0.3">40</text>
<line x1="402.2" y1="243.8" x2="403.4" y2="243.8" stroke="#2a2a2a" stroke-width="1"/>
<line x1="401.4" y1="233" x2="403.4" y2="233" stroke="#2a2a2a" stroke-width="1"/>
<text transform="translate(400 235.28) scale(0.95 1)" font-size="7.6" text-anchor="end" fill="#1e1e1e" stroke-width="0.3">60</text>
<line x1="402.2" y1="222.2" x2="403.4" y2="222.2" stroke="#2a2a2a" stroke-width="1"/>
<line x1="401.4" y1="211.4" x2="403.4" y2="211.4" stroke="#2a2a2a" stroke-width="1"/>
<text transform="translate(400 213.68) scale(0.95 1)" font-size="7.6" text-anchor="end" fill="#1e1e1e" stroke-width="0.3">80</text>
<line x1="402.2" y1="200.6" x2="403.4" y2="200.6" stroke="#2a2a2a" stroke-width="1"/>
<line x1="401.4" y1="189.8" x2="403.4" y2="189.8" stroke="#2a2a2a" stroke-width="1"/>
<text transform="translate(400 192.08) scale(0.95 1)" font-size="7.6" text-anchor="end" fill="#1e1e1e" stroke-width="0.3">100</text>
<line x1="402.2" y1="179" x2="403.4" y2="179" stroke="#2a2a2a" stroke-width="1"/>
<line x1="401.4" y1="168.2" x2="403.4" y2="168.2" stroke="#2a2a2a" stroke-width="1"/>
<text transform="translate(400 170.48) scale(0.95 1)" font-size="7.6" text-anchor="end" fill="#1e1e1e" stroke-width="0.3">120</text>
<line x1="403.4" y1="297.8" x2="403.4" y2="299.8" stroke="#2a2a2a" stroke-width="1"/>
<text transform="translate(403.4 307.6) scale(0.95 1)" font-size="7.6" text-anchor="middle" fill="#1e1e1e" stroke-width="0.3">0</text>
<line x1="414.42" y1="297.8" x2="414.42" y2="299" stroke="#2a2a2a" stroke-width="1"/>
<line x1="425.44" y1="297.8" x2="425.44" y2="299.8" stroke="#2a2a2a" stroke-width="1"/>
<text transform="translate(425.44 307.6) scale(0.95 1)" font-size="7.6" text-anchor="middle" fill="#1e1e1e" stroke-width="0.3">1</text>
<line x1="436.46" y1="297.8" x2="436.46" y2="299" stroke="#2a2a2a" stroke-width="1"/>
<line x1="447.48" y1="297.8" x2="447.48" y2="299.8" stroke="#2a2a2a" stroke-width="1"/>
<text transform="translate(447.48 307.6) scale(0.95 1)" font-size="7.6" text-anchor="middle" fill="#1e1e1e" stroke-width="0.3">2</text>
<line x1="458.5" y1="297.8" x2="458.5" y2="299" stroke="#2a2a2a" stroke-width="1"/>
<line x1="469.52" y1="297.8" x2="469.52" y2="299.8" stroke="#2a2a2a" stroke-width="1"/>
<text transform="translate(469.52 307.6) scale(0.95 1)" font-size="7.6" text-anchor="middle" fill="#1e1e1e" stroke-width="0.3">3</text>
<line x1="480.54" y1="297.8" x2="480.54" y2="299" stroke="#2a2a2a" stroke-width="1"/>
<line x1="491.56" y1="297.8" x2="491.56" y2="299.8" stroke="#2a2a2a" stroke-width="1"/>
<text transform="translate(491.56 307.6) scale(0.95 1)" font-size="7.6" text-anchor="middle" fill="#1e1e1e" stroke-width="0.3">4</text>
<line x1="502.58" y1="297.8" x2="502.58" y2="299" stroke="#2a2a2a" stroke-width="1"/>
<line x1="513.6" y1="297.8" x2="513.6" y2="299.8" stroke="#2a2a2a" stroke-width="1"/>
<text transform="translate(513.6 307.6) scale(0.95 1)" font-size="7.6" text-anchor="middle" fill="#1e1e1e" stroke-width="0.3">5</text>
<text x="409.2" y="182.3" font-size="9" text-anchor="start" fill="#1e1e1e" stroke-width="0.25">(f)</text>
<text transform="translate(371.4 234.45) scale(0.82 1) rotate(-90)" x="0" y="0" font-size="10" text-anchor="middle" fill="#1e1e1e" stroke-width="0.3" textLength="85.1" lengthAdjust="spacingAndGlyphs">Hydroxyl free radical</text>
<text transform="translate(383.5 232.9) scale(0.82 1) rotate(-90)" x="0" y="0" font-size="10" text-anchor="middle" fill="#1e1e1e" stroke-width="0.3" textLength="80" lengthAdjust="spacingAndGlyphs">scavenging rate (%)</text>
<text x="385.3" y="319.5" font-size="10" text-anchor="start" fill="#1e1e1e" stroke-width="0.25" textLength="157.2" lengthAdjust="spacingAndGlyphs">Concentration of polysaccharide (mg/mL)</text>
<polyline points="403.4,295.64 405.6,291.75 408.91,293.05 414.42,289.38 425.44,288.3 447.48,287.65 469.52,286.46 491.56,286.46 513.6,286.46" fill="none" stroke="#cc2d4c" stroke-width="1" stroke-linejoin="round"/>
<line x1="513.6" y1="283.76" x2="513.6" y2="289.16" stroke="#cc2d4c" stroke-width="0.9"/>
<line x1="512.4" y1="283.76" x2="514.8" y2="283.76" stroke="#cc2d4c" stroke-width="0.8"/>
<line x1="512.4" y1="289.16" x2="514.8" y2="289.16" stroke="#cc2d4c" stroke-width="0.8"/>
<rect x="401.65" y="293.89" width="3.5" height="3.5" fill="#cc2d4c"/>
<rect x="403.85" y="290" width="3.5" height="3.5" fill="#cc2d4c"/>
<rect x="407.16" y="291.3" width="3.5" height="3.5" fill="#cc2d4c"/>
<rect x="412.67" y="287.63" width="3.5" height="3.5" fill="#cc2d4c"/>
<rect x="423.69" y="286.55" width="3.5" height="3.5" fill="#cc2d4c"/>
<rect x="445.73" y="285.9" width="3.5" height="3.5" fill="#cc2d4c"/>
<rect x="467.77" y="284.71" width="3.5" height="3.5" fill="#cc2d4c"/>
<rect x="489.81" y="284.71" width="3.5" height="3.5" fill="#cc2d4c"/>
<rect x="511.85" y="284.71" width="3.5" height="3.5" fill="#cc2d4c"/>
<polyline points="403.4,295.32 405.6,291.64 408.91,289.81 414.42,288.3 425.44,287.22 447.48,283.76 469.52,281.49 491.56,280.74 513.6,280.74" fill="none" stroke="#18248e" stroke-width="1" stroke-linejoin="round"/>
<line x1="491.56" y1="278.04" x2="491.56" y2="283.44" stroke="#18248e" stroke-width="0.9"/>
<line x1="490.36" y1="278.04" x2="492.76" y2="278.04" stroke="#18248e" stroke-width="0.8"/>
<line x1="490.36" y1="283.44" x2="492.76" y2="283.44" stroke="#18248e" stroke-width="0.8"/>
<circle cx="403.4" cy="295.32" r="1.85" fill="#18248e"/>
<circle cx="405.6" cy="291.64" r="1.85" fill="#18248e"/>
<circle cx="408.91" cy="289.81" r="1.85" fill="#18248e"/>
<circle cx="414.42" cy="288.3" r="1.85" fill="#18248e"/>
<circle cx="425.44" cy="287.22" r="1.85" fill="#18248e"/>
<circle cx="447.48" cy="283.76" r="1.85" fill="#18248e"/>
<circle cx="469.52" cy="281.49" r="1.85" fill="#18248e"/>
<circle cx="491.56" cy="280.74" r="1.85" fill="#18248e"/>
<circle cx="513.6" cy="280.74" r="1.85" fill="#18248e"/>
<line x1="491.56" y1="280.74" x2="513.6" y2="280.74" stroke="#18248e" stroke-width="2.4"/>
<polyline points="403.4,285.49 404.5,269.72 405.6,251.25 408.91,235.05 414.42,209.67 425.44,195.52 447.48,192.72 469.52,191.64 491.56,190.66 513.6,190.45" fill="none" stroke="#38b066" stroke-width="1" stroke-linejoin="round"/>
<line x1="447.48" y1="190.56" x2="447.48" y2="194.88" stroke="#38b066" stroke-width="0.9"/>
<line x1="446.28" y1="190.56" x2="448.68" y2="190.56" stroke="#38b066" stroke-width="0.8"/>
<line x1="446.28" y1="194.88" x2="448.68" y2="194.88" stroke="#38b066" stroke-width="0.8"/>
<line x1="469.52" y1="188.94" x2="469.52" y2="194.34" stroke="#38b066" stroke-width="0.9"/>
<line x1="468.32" y1="188.94" x2="470.72" y2="188.94" stroke="#38b066" stroke-width="0.8"/>
<line x1="468.32" y1="194.34" x2="470.72" y2="194.34" stroke="#38b066" stroke-width="0.8"/>
<line x1="513.6" y1="187.21" x2="513.6" y2="193.69" stroke="#38b066" stroke-width="0.9"/>
<line x1="512.4" y1="187.21" x2="514.8" y2="187.21" stroke="#38b066" stroke-width="0.8"/>
<line x1="512.4" y1="193.69" x2="514.8" y2="193.69" stroke="#38b066" stroke-width="0.8"/>
<polygon points="403.4,283.32 401.01,287.12 405.79,287.12" fill="#38b066"/>
<polygon points="404.5,267.55 402.11,271.35 406.89,271.35" fill="#38b066"/>
<polygon points="405.6,249.08 403.22,252.88 407.99,252.88" fill="#38b066"/>
<polygon points="408.91,232.88 406.52,236.68 411.3,236.68" fill="#38b066"/>
<polygon points="414.42,207.5 412.03,211.3 416.81,211.3" fill="#38b066"/>
<polygon points="425.44,193.35 423.05,197.15 427.83,197.15" fill="#38b066"/>
<polygon points="447.48,190.55 445.09,194.34 449.87,194.34" fill="#38b066"/>
<polygon points="469.52,189.47 467.13,193.26 471.91,193.26" fill="#38b066"/>
<polygon points="491.56,188.49 489.17,192.29 493.95,192.29" fill="#38b066"/>
<polygon points="513.6,188.28 511.21,192.08 515.99,192.08" fill="#38b066"/>
<polygon points="414.42,206.57 411.01,212 417.83,212" fill="#38b066"/>
<line x1="487.3" y1="218.6" x2="503.8" y2="218.6" stroke="#cc2d4c" stroke-width="1.3" stroke-opacity="0.7"/>
<rect x="493.7" y="216.8" width="3.6" height="3.6" fill="#cc2d4c"/>
<text x="505.8" y="221.78" font-size="8" text-anchor="start" fill="#1e1e1e" stroke-width="0.22" textLength="14.6" lengthAdjust="spacingAndGlyphs">EP-1</text>
<line x1="487.3" y1="228.8" x2="503.8" y2="228.8" stroke="#18248e" stroke-width="1.3" stroke-opacity="0.7"/>
<circle cx="495.5" cy="228.8" r="1.9" fill="#18248e"/>
<text x="505.8" y="231.98" font-size="8" text-anchor="start" fill="#1e1e1e" stroke-width="0.22" textLength="14.6" lengthAdjust="spacingAndGlyphs">EP-2</text>
<line x1="487.3" y1="238.8" x2="503.8" y2="238.8" stroke="#38b066" stroke-width="1.3" stroke-opacity="0.7"/>
<polygon points="495.5,236.57 493.04,240.47 497.96,240.47" fill="#38b066"/>
<text x="505.8" y="241.98" font-size="8" text-anchor="start" fill="#1e1e1e" stroke-width="0.22" textLength="11" lengthAdjust="spacingAndGlyphs">VC</text>
<line x1="46.9" y1="327.1" x2="46.9" y2="457.4" stroke="#2a2a2a" stroke-width="1.1"/>
<line x1="46.3" y1="456.8" x2="167.9" y2="456.8" stroke="#2a2a2a" stroke-width="1.2"/>
<line x1="44.9" y1="456.8" x2="46.9" y2="456.8" stroke="#2a2a2a" stroke-width="1"/>
<text transform="translate(43 459.08) scale(0.95 1)" font-size="7.6" text-anchor="end" fill="#1e1e1e" stroke-width="0.3">0</text>
<line x1="44.9" y1="438.7" x2="46.9" y2="438.7" stroke="#2a2a2a" stroke-width="1"/>
<text transform="translate(43 440.98) scale(0.95 1)" font-size="7.6" text-anchor="end" fill="#1e1e1e" stroke-width="0.3">40</text>
<line x1="45.7" y1="447.75" x2="46.9" y2="447.75" stroke="#2a2a2a" stroke-width="1"/>
<line x1="44.9" y1="418.3" x2="46.9" y2="418.3" stroke="#2a2a2a" stroke-width="1"/>
<text transform="translate(43 420.58) scale(0.95 1)" font-size="7.6" text-anchor="end" fill="#1e1e1e" stroke-width="0.3">520</text>
<line x1="44.9" y1="400.12" x2="46.9" y2="400.12" stroke="#2a2a2a" stroke-width="1"/>
<text transform="translate(43 402.4) scale(0.95 1)" font-size="7.6" text-anchor="end" fill="#1e1e1e" stroke-width="0.3">560</text>
<line x1="44.9" y1="381.94" x2="46.9" y2="381.94" stroke="#2a2a2a" stroke-width="1"/>
<text transform="translate(43 384.22) scale(0.95 1)" font-size="7.6" text-anchor="end" fill="#1e1e1e" stroke-width="0.3">600</text>
<line x1="44.9" y1="363.76" x2="46.9" y2="363.76" stroke="#2a2a2a" stroke-width="1"/>
<text transform="translate(43 366.04) scale(0.95 1)" font-size="7.6" text-anchor="end" fill="#1e1e1e" stroke-width="0.3">640</text>
<line x1="44.9" y1="345.58" x2="46.9" y2="345.58" stroke="#2a2a2a" stroke-width="1"/>
<text transform="translate(43 347.86) scale(0.95 1)" font-size="7.6" text-anchor="end" fill="#1e1e1e" stroke-width="0.3">680</text>
<line x1="44.9" y1="327.4" x2="46.9" y2="327.4" stroke="#2a2a2a" stroke-width="1"/>
<text transform="translate(43 329.68) scale(0.95 1)" font-size="7.6" text-anchor="end" fill="#1e1e1e" stroke-width="0.3">720</text>
<line x1="45.7" y1="409.21" x2="46.9" y2="409.21" stroke="#2a2a2a" stroke-width="1"/>
<line x1="45.7" y1="391.03" x2="46.9" y2="391.03" stroke="#2a2a2a" stroke-width="1"/>
<line x1="45.7" y1="372.85" x2="46.9" y2="372.85" stroke="#2a2a2a" stroke-width="1"/>
<line x1="45.7" y1="354.67" x2="46.9" y2="354.67" stroke="#2a2a2a" stroke-width="1"/>
<line x1="45.7" y1="336.49" x2="46.9" y2="336.49" stroke="#2a2a2a" stroke-width="1"/>
<line x1="46.9" y1="456.8" x2="46.9" y2="458.8" stroke="#2a2a2a" stroke-width="1"/>
<text transform="translate(46.9 466.8) scale(0.95 1)" font-size="7.6" text-anchor="middle" fill="#1e1e1e" stroke-width="0.3">0</text>
<line x1="57.9" y1="456.8" x2="57.9" y2="458" stroke="#2a2a2a" stroke-width="1"/>
<line x1="68.9" y1="456.8" x2="68.9" y2="458.8" stroke="#2a2a2a" stroke-width="1"/>
<text transform="translate(68.9 466.8) scale(0.95 1)" font-size="7.6" text-anchor="middle" fill="#1e1e1e" stroke-width="0.3">1</text>
<line x1="79.9" y1="456.8" x2="79.9" y2="458" stroke="#2a2a2a" stroke-width="1"/>
<line x1="90.9" y1="456.8" x2="90.9" y2="458.8" stroke="#2a2a2a" stroke-width="1"/>
<text transform="translate(90.9 466.8) scale(0.95 1)" font-size="7.6" text-anchor="middle" fill="#1e1e1e" stroke-width="0.3">2</text>
<line x1="101.9" y1="456.8" x2="101.9" y2="458" stroke="#2a2a2a" stroke-width="1"/>
<line x1="112.9" y1="456.8" x2="112.9" y2="458.8" stroke="#2a2a2a" stroke-width="1"/>
<text transform="translate(112.9 466.8) scale(0.95 1)" font-size="7.6" text-anchor="middle" fill="#1e1e1e" stroke-width="0.3">3</text>
<line x1="123.9" y1="456.8" x2="123.9" y2="458" stroke="#2a2a2a" stroke-width="1"/>
<line x1="134.9" y1="456.8" x2="134.9" y2="458.8" stroke="#2a2a2a" stroke-width="1"/>
<text transform="translate(134.9 466.8) scale(0.95 1)" font-size="7.6" text-anchor="middle" fill="#1e1e1e" stroke-width="0.3">4</text>
<line x1="145.9" y1="456.8" x2="145.9" y2="458" stroke="#2a2a2a" stroke-width="1"/>
<line x1="156.9" y1="456.8" x2="156.9" y2="458.8" stroke="#2a2a2a" stroke-width="1"/>
<text transform="translate(156.9 466.8) scale(0.95 1)" font-size="7.6" text-anchor="middle" fill="#1e1e1e" stroke-width="0.3">5</text>
<text x="53" y="338" font-size="8.6" text-anchor="start" fill="#1e1e1e" stroke-width="0.25">(g)</text>
<text transform="translate(12 393.4) scale(0.82 1) rotate(-90)" x="0" y="0" font-size="10" text-anchor="middle" fill="#1e1e1e" stroke-width="0.3" textLength="76.8" lengthAdjust="spacingAndGlyphs">Ferric ion reducing</text>
<text transform="translate(23.5 392) scale(0.82 1) rotate(-90)" x="0" y="0" font-size="10" text-anchor="middle" fill="#1e1e1e" stroke-width="0.3" textLength="114.2" lengthAdjust="spacingAndGlyphs">antioxidant ability (&#956;mol/L)</text>
<text x="30.9" y="479" font-size="9.6" text-anchor="start" fill="#1e1e1e" stroke-width="0.25" textLength="152.5" lengthAdjust="spacingAndGlyphs">Concentration of polysaccharide (mg/mL)</text>
<polygon points="41.6,431.4 51.8,422.6 52.4,425.5 42.2,434.3" fill="#fff"/>
<line x1="41.6" y1="431.9" x2="51.8" y2="423.1" stroke="#111" stroke-width="0.9"/>
<line x1="42.2" y1="434.1" x2="52.4" y2="425.3" stroke="#111" stroke-width="0.9"/>
<polyline points="46.9,456.35 49.1,455.44 52.4,454.54 57.9,452.91 68.9,451.69 90.9,451.69 112.9,450.19 134.9,449.74 156.9,449.74" fill="none" stroke="#555555" stroke-width="1" stroke-linejoin="round"/>
<rect x="45.15" y="454.6" width="3.5" height="3.5" fill="#303030"/>
<rect x="47.35" y="453.69" width="3.5" height="3.5" fill="#303030"/>
<rect x="50.65" y="452.79" width="3.5" height="3.5" fill="#303030"/>
<rect x="56.15" y="451.16" width="3.5" height="3.5" fill="#303030"/>
<rect x="67.15" y="449.94" width="3.5" height="3.5" fill="#303030"/>
<rect x="89.15" y="449.94" width="3.5" height="3.5" fill="#303030"/>
<rect x="111.15" y="448.44" width="3.5" height="3.5" fill="#303030"/>
<rect x="133.15" y="447.99" width="3.5" height="3.5" fill="#303030"/>
<rect x="155.15" y="447.99" width="3.5" height="3.5" fill="#303030"/>
<polyline points="46.9,456.35 49.1,454.54 52.4,453 57.9,453 68.9,451.28 90.9,448.38 112.9,447.61 134.9,444.72 156.9,444.72" fill="none" stroke="#f02a2a" stroke-width="1" stroke-linejoin="round"/>
<circle cx="46.9" cy="456.35" r="1.85" fill="#f02a2a"/>
<circle cx="49.1" cy="454.54" r="1.85" fill="#f02a2a"/>
<circle cx="52.4" cy="453" r="1.85" fill="#f02a2a"/>
<circle cx="57.9" cy="453" r="1.85" fill="#f02a2a"/>
<circle cx="68.9" cy="451.28" r="1.85" fill="#f02a2a"/>
<circle cx="90.9" cy="448.38" r="1.85" fill="#f02a2a"/>
<circle cx="112.9" cy="447.61" r="1.85" fill="#f02a2a"/>
<circle cx="134.9" cy="444.72" r="1.85" fill="#f02a2a"/>
<circle cx="156.9" cy="444.72" r="1.85" fill="#f02a2a"/>
<polyline points="46.9,455.89 49.1,453.18 52.4,451.69 57.9,451.69 68.9,446.3 90.9,442.09 112.9,438.2 134.9,434.9 156.9,434.81" fill="none" stroke="#2462e0" stroke-width="1" stroke-linejoin="round"/>
<line x1="134.9" y1="431.1" x2="134.9" y2="438.7" stroke="#2462e0" stroke-width="0.9"/>
<line x1="133.7" y1="431.1" x2="136.1" y2="431.1" stroke="#2462e0" stroke-width="0.8"/>
<line x1="133.7" y1="438.7" x2="136.1" y2="438.7" stroke="#2462e0" stroke-width="0.8"/>
<polygon points="46.9,453.72 44.51,457.52 49.29,457.52" fill="#2462e0"/>
<polygon points="49.1,451.01 46.71,454.81 51.49,454.81" fill="#2462e0"/>
<polygon points="52.4,449.52 50.01,453.31 54.79,453.31" fill="#2462e0"/>
<polygon points="57.9,449.52 55.51,453.31 60.29,453.31" fill="#2462e0"/>
<polygon points="68.9,444.13 66.51,447.93 71.29,447.93" fill="#2462e0"/>
<polygon points="90.9,439.92 88.51,443.72 93.29,443.72" fill="#2462e0"/>
<polygon points="112.9,436.03 110.51,439.83 115.29,439.83" fill="#2462e0"/>
<polygon points="134.9,432.73 132.51,436.53 137.29,436.53" fill="#2462e0"/>
<polygon points="156.9,432.64 154.51,436.44 159.29,436.44" fill="#2462e0"/>
<polyline points="46.9,455.89 48,452.27 49.1,440.78 52.4,434.9 57.9,368.17 68.9,365.12 90.9,355.81 112.9,354.31 134.9,353.76 156.9,353.31" fill="none" stroke="#2ea862" stroke-width="1" stroke-linejoin="round"/>
<line x1="52.4" y1="430.37" x2="52.4" y2="439.42" stroke="#2ea862" stroke-width="0.9"/>
<line x1="51.2" y1="430.37" x2="53.6" y2="430.37" stroke="#2ea862" stroke-width="0.8"/>
<line x1="51.2" y1="439.42" x2="53.6" y2="439.42" stroke="#2ea862" stroke-width="0.8"/>
<line x1="90.9" y1="352.17" x2="90.9" y2="359.44" stroke="#2ea862" stroke-width="0.9"/>
<line x1="89.7" y1="352.17" x2="92.1" y2="352.17" stroke="#2ea862" stroke-width="0.8"/>
<line x1="89.7" y1="359.44" x2="92.1" y2="359.44" stroke="#2ea862" stroke-width="0.8"/>
<polygon points="46.9,458.06 44.51,454.27 49.29,454.27" fill="#2ea862"/>
<polygon points="48,454.44 45.61,450.65 50.39,450.65" fill="#2ea862"/>
<polygon points="49.1,442.95 46.71,439.15 51.49,439.15" fill="#2ea862"/>
<polygon points="52.4,437.07 50.01,433.27 54.79,433.27" fill="#2ea862"/>
<polygon points="57.9,370.34 55.51,366.54 60.29,366.54" fill="#2ea862"/>
<polygon points="68.9,367.29 66.51,363.5 71.29,363.5" fill="#2ea862"/>
<polygon points="90.9,357.98 88.51,354.18 93.29,354.18" fill="#2ea862"/>
<polygon points="112.9,356.48 110.51,352.68 115.29,352.68" fill="#2ea862"/>
<polygon points="134.9,355.93 132.51,352.13 137.29,352.13" fill="#2ea862"/>
<polygon points="156.9,355.48 154.51,351.68 159.29,351.68" fill="#2ea862"/>
<line x1="127" y1="378.9" x2="143.8" y2="378.9" stroke="#555555" stroke-width="1.8" stroke-opacity="0.7"/>
<rect x="133.6" y="377.1" width="3.6" height="3.6" fill="#303030"/>
<text x="145.5" y="381.94" font-size="7.6" text-anchor="start" fill="#1e1e1e" stroke-width="0.22" textLength="11.4" lengthAdjust="spacingAndGlyphs">IP-1</text>
<line x1="127" y1="388.9" x2="143.8" y2="388.9" stroke="#f02a2a" stroke-width="1.8" stroke-opacity="0.7"/>
<circle cx="135.4" cy="388.9" r="1.9" fill="#f02a2a"/>
<text x="145.5" y="391.94" font-size="7.6" text-anchor="start" fill="#1e1e1e" stroke-width="0.22" textLength="11.4" lengthAdjust="spacingAndGlyphs">IP-2</text>
<line x1="127" y1="398.8" x2="143.8" y2="398.8" stroke="#2462e0" stroke-width="1.8" stroke-opacity="0.7"/>
<polygon points="135.4,396.57 132.94,400.47 137.86,400.47" fill="#2462e0"/>
<text x="145.5" y="401.84" font-size="7.6" text-anchor="start" fill="#1e1e1e" stroke-width="0.22" textLength="11.4" lengthAdjust="spacingAndGlyphs">IP-3</text>
<line x1="127" y1="409" x2="143.8" y2="409" stroke="#2ea862" stroke-width="1.8" stroke-opacity="0.7"/>
<polygon points="135.4,411.23 132.94,407.33 137.86,407.33" fill="#2ea862"/>
<text x="145.5" y="412.04" font-size="7.6" text-anchor="start" fill="#1e1e1e" stroke-width="0.22" textLength="10" lengthAdjust="spacingAndGlyphs">VC</text>
<line x1="224.9" y1="327.1" x2="224.9" y2="457.6" stroke="#2a2a2a" stroke-width="1.1"/>
<line x1="224.3" y1="457" x2="346.12" y2="457" stroke="#2a2a2a" stroke-width="1.2"/>
<line x1="222.9" y1="457" x2="224.9" y2="457" stroke="#2a2a2a" stroke-width="1"/>
<text transform="translate(221.2 459.28) scale(0.95 1)" font-size="7.6" text-anchor="end" fill="#1e1e1e" stroke-width="0.3">0</text>
<line x1="222.9" y1="438.4" x2="224.9" y2="438.4" stroke="#2a2a2a" stroke-width="1"/>
<text transform="translate(221.2 440.68) scale(0.95 1)" font-size="7.6" text-anchor="end" fill="#1e1e1e" stroke-width="0.3">40</text>
<line x1="223.7" y1="447.7" x2="224.9" y2="447.7" stroke="#2a2a2a" stroke-width="1"/>
<line x1="222.9" y1="418.5" x2="224.9" y2="418.5" stroke="#2a2a2a" stroke-width="1"/>
<text transform="translate(221.2 420.78) scale(0.95 1)" font-size="7.6" text-anchor="end" fill="#1e1e1e" stroke-width="0.3">520</text>
<line x1="222.9" y1="400.28" x2="224.9" y2="400.28" stroke="#2a2a2a" stroke-width="1"/>
<text transform="translate(221.2 402.56) scale(0.95 1)" font-size="7.6" text-anchor="end" fill="#1e1e1e" stroke-width="0.3">560</text>
<line x1="222.9" y1="382.06" x2="224.9" y2="382.06" stroke="#2a2a2a" stroke-width="1"/>
<text transform="translate(221.2 384.34) scale(0.95 1)" font-size="7.6" text-anchor="end" fill="#1e1e1e" stroke-width="0.3">600</text>
<line x1="222.9" y1="363.84" x2="224.9" y2="363.84" stroke="#2a2a2a" stroke-width="1"/>
<text transform="translate(221.2 366.12) scale(0.95 1)" font-size="7.6" text-anchor="end" fill="#1e1e1e" stroke-width="0.3">640</text>
<line x1="222.9" y1="345.62" x2="224.9" y2="345.62" stroke="#2a2a2a" stroke-width="1"/>
<text transform="translate(221.2 347.9) scale(0.95 1)" font-size="7.6" text-anchor="end" fill="#1e1e1e" stroke-width="0.3">680</text>
<line x1="222.9" y1="327.4" x2="224.9" y2="327.4" stroke="#2a2a2a" stroke-width="1"/>
<text transform="translate(221.2 329.68) scale(0.95 1)" font-size="7.6" text-anchor="end" fill="#1e1e1e" stroke-width="0.3">720</text>
<line x1="223.7" y1="409.39" x2="224.9" y2="409.39" stroke="#2a2a2a" stroke-width="1"/>
<line x1="223.7" y1="391.17" x2="224.9" y2="391.17" stroke="#2a2a2a" stroke-width="1"/>
<line x1="223.7" y1="372.95" x2="224.9" y2="372.95" stroke="#2a2a2a" stroke-width="1"/>
<line x1="223.7" y1="354.73" x2="224.9" y2="354.73" stroke="#2a2a2a" stroke-width="1"/>
<line x1="223.7" y1="336.51" x2="224.9" y2="336.51" stroke="#2a2a2a" stroke-width="1"/>
<line x1="224.9" y1="457" x2="224.9" y2="459" stroke="#2a2a2a" stroke-width="1"/>
<text transform="translate(224.9 466.6) scale(0.95 1)" font-size="7.6" text-anchor="middle" fill="#1e1e1e" stroke-width="0.3">0</text>
<line x1="235.92" y1="457" x2="235.92" y2="458.2" stroke="#2a2a2a" stroke-width="1"/>
<line x1="246.94" y1="457" x2="246.94" y2="459" stroke="#2a2a2a" stroke-width="1"/>
<text transform="translate(246.94 466.6) scale(0.95 1)" font-size="7.6" text-anchor="middle" fill="#1e1e1e" stroke-width="0.3">1</text>
<line x1="257.96" y1="457" x2="257.96" y2="458.2" stroke="#2a2a2a" stroke-width="1"/>
<line x1="268.98" y1="457" x2="268.98" y2="459" stroke="#2a2a2a" stroke-width="1"/>
<text transform="translate(268.98 466.6) scale(0.95 1)" font-size="7.6" text-anchor="middle" fill="#1e1e1e" stroke-width="0.3">2</text>
<line x1="280" y1="457" x2="280" y2="458.2" stroke="#2a2a2a" stroke-width="1"/>
<line x1="291.02" y1="457" x2="291.02" y2="459" stroke="#2a2a2a" stroke-width="1"/>
<text transform="translate(291.02 466.6) scale(0.95 1)" font-size="7.6" text-anchor="middle" fill="#1e1e1e" stroke-width="0.3">3</text>
<line x1="302.04" y1="457" x2="302.04" y2="458.2" stroke="#2a2a2a" stroke-width="1"/>
<line x1="313.06" y1="457" x2="313.06" y2="459" stroke="#2a2a2a" stroke-width="1"/>
<text transform="translate(313.06 466.6) scale(0.95 1)" font-size="7.6" text-anchor="middle" fill="#1e1e1e" stroke-width="0.3">4</text>
<line x1="324.08" y1="457" x2="324.08" y2="458.2" stroke="#2a2a2a" stroke-width="1"/>
<line x1="335.1" y1="457" x2="335.1" y2="459" stroke="#2a2a2a" stroke-width="1"/>
<text transform="translate(335.1 466.6) scale(0.95 1)" font-size="7.6" text-anchor="middle" fill="#1e1e1e" stroke-width="0.3">5</text>
<text x="230.8" y="340.5" font-size="9" text-anchor="start" fill="#1e1e1e" stroke-width="0.25">(h)</text>
<text transform="translate(190.4 399.3) scale(0.82 1) rotate(-90)" x="0" y="0" font-size="10" text-anchor="middle" fill="#1e1e1e" stroke-width="0.3" textLength="72.9" lengthAdjust="spacingAndGlyphs">Frric ion reducing</text>
<text transform="translate(201.2 397.9) scale(0.82 1) rotate(-90)" x="0" y="0" font-size="10" text-anchor="middle" fill="#1e1e1e" stroke-width="0.3" textLength="114.5" lengthAdjust="spacingAndGlyphs">antioxidant ability (&#956;mol/L)</text>
<text x="207.2" y="477.3" font-size="9.3" text-anchor="start" fill="#1e1e1e" stroke-width="0.25" textLength="155.5" lengthAdjust="spacingAndGlyphs">Concentration of polysaccharide (mg/mL)</text>
<polygon points="220.4,431.6 229.6,423.2 230.2,426.0 221.0,434.4" fill="#fff"/>
<line x1="220.4" y1="432.1" x2="229.6" y2="423.6" stroke="#111" stroke-width="0.9"/>
<line x1="221" y1="434.2" x2="230.2" y2="425.7" stroke="#111" stroke-width="0.9"/>
<polyline points="224.9,456.54 227.1,454.68 230.41,452.95 235.92,451.88 246.94,451.23 268.98,451.65 291.02,451.23 313.06,450.72 335.1,450.54" fill="none" stroke="#cc2d4c" stroke-width="1" stroke-linejoin="round"/>
<line x1="291.02" y1="447.51" x2="291.02" y2="454.95" stroke="#cc2d4c" stroke-width="0.9"/>
<line x1="289.82" y1="447.51" x2="292.22" y2="447.51" stroke="#cc2d4c" stroke-width="0.8"/>
<line x1="289.82" y1="454.95" x2="292.22" y2="454.95" stroke="#cc2d4c" stroke-width="0.8"/>
<line x1="313.06" y1="447.7" x2="313.06" y2="453.75" stroke="#cc2d4c" stroke-width="0.9"/>
<line x1="311.86" y1="447.7" x2="314.26" y2="447.7" stroke="#cc2d4c" stroke-width="0.8"/>
<line x1="311.86" y1="453.75" x2="314.26" y2="453.75" stroke="#cc2d4c" stroke-width="0.8"/>
<line x1="335.1" y1="449.14" x2="335.1" y2="451.93" stroke="#cc2d4c" stroke-width="0.9"/>
<line x1="333.9" y1="449.14" x2="336.3" y2="449.14" stroke="#cc2d4c" stroke-width="0.8"/>
<line x1="333.9" y1="451.93" x2="336.3" y2="451.93" stroke="#cc2d4c" stroke-width="0.8"/>
<rect x="223.15" y="454.79" width="3.5" height="3.5" fill="#cc2d4c"/>
<rect x="225.35" y="452.93" width="3.5" height="3.5" fill="#cc2d4c"/>
<rect x="228.66" y="451.2" width="3.5" height="3.5" fill="#cc2d4c"/>
<rect x="234.17" y="450.13" width="3.5" height="3.5" fill="#cc2d4c"/>
<rect x="245.19" y="449.48" width="3.5" height="3.5" fill="#cc2d4c"/>
<rect x="267.23" y="449.9" width="3.5" height="3.5" fill="#cc2d4c"/>
<rect x="289.27" y="449.48" width="3.5" height="3.5" fill="#cc2d4c"/>
<rect x="311.31" y="448.97" width="3.5" height="3.5" fill="#cc2d4c"/>
<rect x="333.35" y="448.79" width="3.5" height="3.5" fill="#cc2d4c"/>
<polyline points="224.9,456.54 227.1,452.35 230.41,450.72 235.92,446.35 246.94,442.86 268.98,440.21 291.02,439.1 313.06,437.28 335.1,436.87" fill="none" stroke="#18248e" stroke-width="1" stroke-linejoin="round"/>
<line x1="291.02" y1="435.84" x2="291.02" y2="442.35" stroke="#18248e" stroke-width="0.9"/>
<line x1="289.82" y1="435.84" x2="292.22" y2="435.84" stroke="#18248e" stroke-width="0.8"/>
<line x1="289.82" y1="442.35" x2="292.22" y2="442.35" stroke="#18248e" stroke-width="0.8"/>
<line x1="313.06" y1="433.56" x2="313.06" y2="441" stroke="#18248e" stroke-width="0.9"/>
<line x1="311.86" y1="433.56" x2="314.26" y2="433.56" stroke="#18248e" stroke-width="0.8"/>
<line x1="311.86" y1="441" x2="314.26" y2="441" stroke="#18248e" stroke-width="0.8"/>
<line x1="335.1" y1="434.08" x2="335.1" y2="439.66" stroke="#18248e" stroke-width="0.9"/>
<line x1="333.9" y1="434.08" x2="336.3" y2="434.08" stroke="#18248e" stroke-width="0.8"/>
<line x1="333.9" y1="439.66" x2="336.3" y2="439.66" stroke="#18248e" stroke-width="0.8"/>
<circle cx="224.9" cy="456.54" r="1.85" fill="#18248e"/>
<circle cx="227.1" cy="452.35" r="1.85" fill="#18248e"/>
<circle cx="230.41" cy="450.72" r="1.85" fill="#18248e"/>
<circle cx="235.92" cy="446.35" r="1.85" fill="#18248e"/>
<circle cx="246.94" cy="442.86" r="1.85" fill="#18248e"/>
<circle cx="268.98" cy="440.21" r="1.85" fill="#18248e"/>
<circle cx="291.02" cy="439.1" r="1.85" fill="#18248e"/>
<circle cx="313.06" cy="437.28" r="1.85" fill="#18248e"/>
<circle cx="335.1" cy="436.87" r="1.85" fill="#18248e"/>
<line x1="291.02" y1="439.1" x2="313.06" y2="437.28" stroke="#18248e" stroke-width="2.2"/>
<polyline points="224.9,456.07 226,452.35 227.1,440.26 230.41,434.68 235.92,367.48 246.94,364.75 268.98,355.5 291.02,354.05 313.06,353.59 335.1,353.59" fill="none" stroke="#38b066" stroke-width="1" stroke-linejoin="round"/>
<line x1="230.41" y1="430.26" x2="230.41" y2="439.1" stroke="#38b066" stroke-width="0.9"/>
<line x1="229.21" y1="430.26" x2="231.61" y2="430.26" stroke="#38b066" stroke-width="0.8"/>
<line x1="229.21" y1="439.1" x2="231.61" y2="439.1" stroke="#38b066" stroke-width="0.8"/>
<line x1="268.98" y1="351.86" x2="268.98" y2="359.15" stroke="#38b066" stroke-width="0.9"/>
<line x1="267.78" y1="351.86" x2="270.18" y2="351.86" stroke="#38b066" stroke-width="0.8"/>
<line x1="267.78" y1="359.15" x2="270.18" y2="359.15" stroke="#38b066" stroke-width="0.8"/>
<line x1="335.1" y1="351.77" x2="335.1" y2="355.41" stroke="#38b066" stroke-width="0.9"/>
<line x1="333.9" y1="351.77" x2="336.3" y2="351.77" stroke="#38b066" stroke-width="0.8"/>
<line x1="333.9" y1="355.41" x2="336.3" y2="355.41" stroke="#38b066" stroke-width="0.8"/>
<polygon points="224.9,453.9 222.51,457.7 227.29,457.7" fill="#38b066"/>
<polygon points="226,450.18 223.62,453.98 228.39,453.98" fill="#38b066"/>
<polygon points="227.1,438.09 224.72,441.89 229.49,441.89" fill="#38b066"/>
<polygon points="230.41,432.51 228.02,436.31 232.8,436.31" fill="#38b066"/>
<polygon points="235.92,365.31 233.53,369.11 238.31,369.11" fill="#38b066"/>
<polygon points="246.94,362.58 244.55,366.38 249.33,366.38" fill="#38b066"/>
<polygon points="268.98,353.33 266.59,357.13 271.37,357.13" fill="#38b066"/>
<polygon points="291.02,351.88 288.63,355.67 293.41,355.67" fill="#38b066"/>
<polygon points="313.06,351.42 310.67,355.22 315.45,355.22" fill="#38b066"/>
<polygon points="335.1,351.42 332.71,355.22 337.49,355.22" fill="#38b066"/>
<line x1="307.3" y1="381.4" x2="324.4" y2="381.4" stroke="#cc2d4c" stroke-width="1.3" stroke-opacity="0.7"/>
<rect x="314.1" y="379.6" width="3.6" height="3.6" fill="#cc2d4c"/>
<text x="326.3" y="384.54" font-size="7.9" text-anchor="start" fill="#1e1e1e" stroke-width="0.22" textLength="14.2" lengthAdjust="spacingAndGlyphs">EP-1</text>
<line x1="307.3" y1="391.4" x2="324.4" y2="391.4" stroke="#18248e" stroke-width="1.3" stroke-opacity="0.7"/>
<circle cx="315.9" cy="391.4" r="1.9" fill="#18248e"/>
<text x="326.3" y="394.54" font-size="7.9" text-anchor="start" fill="#1e1e1e" stroke-width="0.22" textLength="14.2" lengthAdjust="spacingAndGlyphs">EP-2</text>
<line x1="307.3" y1="401.4" x2="324.4" y2="401.4" stroke="#38b066" stroke-width="1.3" stroke-opacity="0.7"/>
<polygon points="315.9,399.17 313.44,403.07 318.36,403.07" fill="#38b066"/>
<text x="326.3" y="404.54" font-size="7.9" text-anchor="start" fill="#1e1e1e" stroke-width="0.22" textLength="10.6" lengthAdjust="spacingAndGlyphs">VC</text>
</svg>
</body></html>
